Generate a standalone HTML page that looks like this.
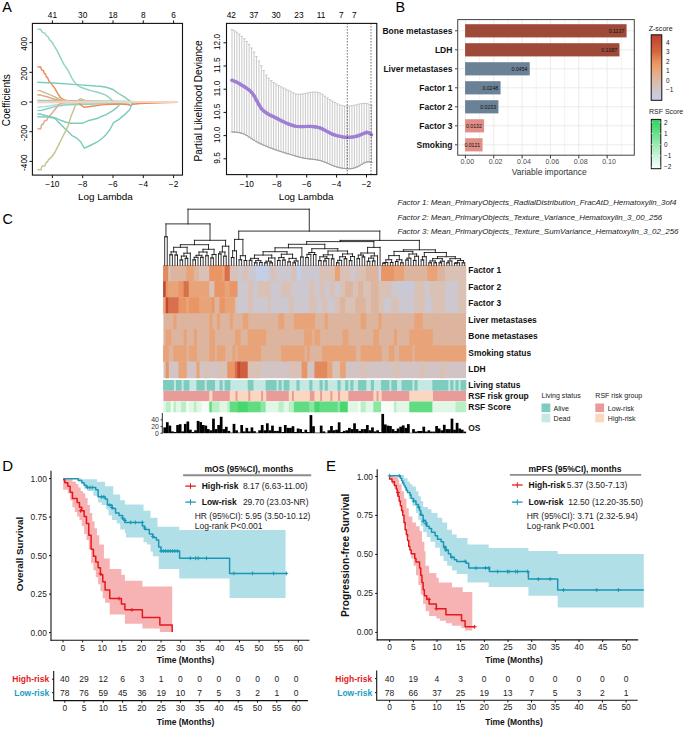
<!DOCTYPE html>
<html><head><meta charset="utf-8"><style>
html,body{margin:0;padding:0;background:#fff;}
body{width:685px;height:730px;overflow:hidden;}
svg{display:block;font-family:"Liberation Sans", sans-serif;}
</style></head><body>
<svg width="685" height="730" viewBox="0 0 685 730">
<rect width="685" height="730" fill="#fff"/>
<text x="2.3" y="12.4" font-size="14.4" text-anchor="start" fill="#000">A</text>
<text x="395.6" y="12.4" font-size="14.4" text-anchor="start" fill="#000">B</text>
<text x="2.5" y="223.6" font-size="14.4" text-anchor="start" fill="#000">C</text>
<text x="2.2" y="470.9" font-size="15" text-anchor="start" fill="#000">D</text>
<text x="325.9" y="470.8" font-size="15" text-anchor="start" fill="#000">E</text>
<polyline points="37.4,100.4 80,100.6 130,101.4 140,102" fill="none" stroke="#7ccbbb" stroke-width="1.45" stroke-linejoin="round"/>
<polyline points="37.4,107.2 45,106.5 54.7,105 67,103.6 80,103.3 110,103.2 135,102.3" fill="none" stroke="#b5e1d7" stroke-width="1.45" stroke-linejoin="round"/>
<polyline points="37.4,110.6 42,110.2 48,108.5 54.7,106.6 67,104.7 80,104.5 110,103.6 135,102.4" fill="none" stroke="#8dd0c2" stroke-width="1.45" stroke-linejoin="round"/>
<polyline points="37.5,67 40.8,67 41.4,69.5 42.5,70.5 43.5,70.5 44.2,73.5 45.5,74 46.3,76.8 47.6,77.5 48.6,80.5 50,82.2 51.5,84 54.4,87.6 57.4,92.8 60.3,97.5 63.8,99.6 67,100.6 72,101.2 78,101.8 81.5,105.5 84.3,107.3 90,106.5 104,104.6 118,104 128,104.5 130.5,105.5 133,104.2 140,103.5 160,102.7 177.5,102.2" fill="none" stroke="#eb8d58" stroke-width="1.45" stroke-linejoin="round"/>
<polyline points="37.4,94.9 40,94.9 42.3,95.6 45,96.2 48.5,97.3 51.5,98.3 54.7,99.2 58,100 62,100.6 70,101.2 90,101.8" fill="none" stroke="#e6a37f" stroke-width="1.45" stroke-linejoin="round"/>
<polyline points="37.4,90.6 40.5,90.6 41.5,91.5 44,92.3 46,93.2 48.5,94.2 52,95.6 56,97.5 60,99.4 64,100.5 70,101" fill="none" stroke="#c6c28f" stroke-width="1.45" stroke-linejoin="round"/>
<polyline points="37.4,128.8 40.8,128.8 41.5,125 43.3,124 44.4,121 46.8,120.3 48.2,117.3 51,114.6 54.7,109.7 58.4,105 61,103.2 66,102.3 75,101.9" fill="none" stroke="#e3a88e" stroke-width="1.45" stroke-linejoin="round"/>
<polyline points="37.6,29.2 40.8,29.2 41.7,31.5 42.8,32.6 44.8,33 46.2,35.5 48.3,37 49.3,39.6 51.3,41.2 53.4,44.5 56.9,50.4 60.4,57.4 63.9,64.4 67.2,69 69.7,73.7 72,78.4 74.4,81.9 76.7,84.6 80.2,87 84.9,88.8 90.7,90.6 97.7,92.3 104.7,94.6 108.7,97.2 112.4,100.6 115,102.3 120,102.3" fill="none" stroke="#8fd4c6" stroke-width="1.45" stroke-linejoin="round"/>
<polyline points="37.2,82.3 53.4,83 76.7,84.6 95.4,86 100,86.2 106.2,87.3 112.4,89.2 118.6,93.5 124.8,97.2 129.8,101 132.3,103.2 135,102.6 138,102.2" fill="none" stroke="#7ccbbb" stroke-width="1.45" stroke-linejoin="round"/>
<polyline points="37.4,114 41.1,114 42.3,114.8 48,116.2 54.7,117.7 62.1,120.8 66,122.3 70.7,123.2 81.8,123.2 84,122.6 88,120.8 97.8,118.3 100,117 106.2,114.6 112.4,110.9 117.4,107.1 119.9,104 122,102.5 130,102.2" fill="none" stroke="#7ccbbb" stroke-width="1.45" stroke-linejoin="round"/>
<polyline points="37.4,116.8 48.5,117.1 54.7,118.3 57.5,121 60.8,124.5 64,127.8 67,130.6 71.9,135.6 76.9,138.2 80.6,141.7 82.5,145 84.3,148.2 89.2,146 97.8,141.7 104,136.8 106.2,134.4 109.9,129.5 113.6,122.7 118.6,119.6 124.8,114.6 129.8,109.6 131,105.9 132.3,103.4 134,102.5 140,102.2" fill="none" stroke="#7ccbbb" stroke-width="1.45" stroke-linejoin="round"/>
<polyline points="37.5,169.8 41.1,169.8 41.7,166.6 43,166 44.8,165.8 46,162.7 47.5,161.8 48.5,159.6 51,157.7 54.7,152.8 58.4,145.4 62.1,138 65.8,130.6 68.2,125.7 70.7,117.1 73.2,110.9 75.6,104.7 78.7,99.8 80.6,98.6 83,99.8 86.7,101 95,101.6 110,101.9" fill="none" stroke="#c6c28f" stroke-width="1.45" stroke-linejoin="round"/>
<polyline points="37.5,102.6 100,102.57 150,102 177.5,102" fill="none" stroke="#f1cbb8" stroke-width="1.3" stroke-linejoin="round"/>
<polyline points="37.5,101.4 100,101.43 150,102 177.5,102" fill="none" stroke="#f4d3c2" stroke-width="1.3" stroke-linejoin="round"/>
<polyline points="37.5,102 100,102 150,102 177.5,102" fill="none" stroke="#f4d3c2" stroke-width="1.6" stroke-linejoin="round"/>
<rect x="32.4" y="23.4" width="150.1" height="151.7" fill="none" stroke="#111" stroke-width="1.1"/>
<line x1="52.4" y1="175.1" x2="52.4" y2="178.1" stroke="#111" stroke-width="1"/>
<line x1="52.4" y1="23.4" x2="52.4" y2="20.4" stroke="#111" stroke-width="1"/>
<text x="52.4" y="187.07" font-size="8.3" text-anchor="middle" fill="#000">−10</text>
<text x="52.4" y="17.57" font-size="8.3" text-anchor="middle" fill="#000">41</text>
<line x1="82.7" y1="175.1" x2="82.7" y2="178.1" stroke="#111" stroke-width="1"/>
<line x1="82.7" y1="23.4" x2="82.7" y2="20.4" stroke="#111" stroke-width="1"/>
<text x="82.7" y="187.07" font-size="8.3" text-anchor="middle" fill="#000">−8</text>
<text x="82.7" y="17.57" font-size="8.3" text-anchor="middle" fill="#000">30</text>
<line x1="113" y1="175.1" x2="113" y2="178.1" stroke="#111" stroke-width="1"/>
<line x1="113" y1="23.4" x2="113" y2="20.4" stroke="#111" stroke-width="1"/>
<text x="113" y="187.07" font-size="8.3" text-anchor="middle" fill="#000">−6</text>
<text x="113" y="17.57" font-size="8.3" text-anchor="middle" fill="#000">18</text>
<line x1="143.3" y1="175.1" x2="143.3" y2="178.1" stroke="#111" stroke-width="1"/>
<line x1="143.3" y1="23.4" x2="143.3" y2="20.4" stroke="#111" stroke-width="1"/>
<text x="143.3" y="187.07" font-size="8.3" text-anchor="middle" fill="#000">−4</text>
<text x="143.3" y="17.57" font-size="8.3" text-anchor="middle" fill="#000">8</text>
<line x1="173.6" y1="175.1" x2="173.6" y2="178.1" stroke="#111" stroke-width="1"/>
<line x1="173.6" y1="23.4" x2="173.6" y2="20.4" stroke="#111" stroke-width="1"/>
<text x="173.6" y="187.07" font-size="8.3" text-anchor="middle" fill="#000">−2</text>
<text x="173.6" y="17.57" font-size="8.3" text-anchor="middle" fill="#000">6</text>
<line x1="32.4" y1="42.6" x2="29.4" y2="42.6" stroke="#111" stroke-width="1"/>
<text x="23.8" y="46.77" font-size="8.3" text-anchor="middle" fill="#000" transform="rotate(-90 23.8 43.8)">400</text>
<line x1="32.4" y1="72.3" x2="29.4" y2="72.3" stroke="#111" stroke-width="1"/>
<text x="23.8" y="76.47" font-size="8.3" text-anchor="middle" fill="#000" transform="rotate(-90 23.8 73.5)">200</text>
<line x1="32.4" y1="102" x2="29.4" y2="102" stroke="#111" stroke-width="1"/>
<text x="23.8" y="106.17" font-size="8.3" text-anchor="middle" fill="#000" transform="rotate(-90 23.8 103.2)">0</text>
<line x1="32.4" y1="131.7" x2="29.4" y2="131.7" stroke="#111" stroke-width="1"/>
<text x="23.8" y="135.87" font-size="8.3" text-anchor="middle" fill="#000" transform="rotate(-90 23.8 132.9)">-200</text>
<line x1="32.4" y1="161.4" x2="29.4" y2="161.4" stroke="#111" stroke-width="1"/>
<text x="23.8" y="165.57" font-size="8.3" text-anchor="middle" fill="#000" transform="rotate(-90 23.8 162.6)">-400</text>
<text x="105.4" y="200.14" font-size="9.9" text-anchor="middle" fill="#000">Log Lambda</text>
<text x="6.9" y="103.88" font-size="10" text-anchor="middle" fill="#000" transform="rotate(-90 6.9 100.3)">Coefficients</text>
<line x1="232" y1="29.5" x2="232" y2="132" stroke="#cdcdcd" stroke-width="1.1"/>
<line x1="230.7" y1="29.5" x2="233.3" y2="29.5" stroke="#bdbdbd" stroke-width="0.8"/>
<line x1="230.7" y1="132" x2="233.3" y2="132" stroke="#a8a8a8" stroke-width="1"/>
<line x1="234.45" y1="30.72" x2="234.45" y2="132.12" stroke="#cdcdcd" stroke-width="1.1"/>
<line x1="233.15" y1="30.72" x2="235.75" y2="30.72" stroke="#bdbdbd" stroke-width="0.8"/>
<line x1="233.15" y1="132.12" x2="235.75" y2="132.12" stroke="#a8a8a8" stroke-width="1"/>
<line x1="236.89" y1="32.17" x2="236.89" y2="132.33" stroke="#cdcdcd" stroke-width="1.1"/>
<line x1="235.59" y1="32.17" x2="238.19" y2="32.17" stroke="#bdbdbd" stroke-width="0.8"/>
<line x1="235.59" y1="132.33" x2="238.19" y2="132.33" stroke="#a8a8a8" stroke-width="1"/>
<line x1="239.34" y1="34.01" x2="239.34" y2="132.7" stroke="#cdcdcd" stroke-width="1.1"/>
<line x1="238.04" y1="34.01" x2="240.64" y2="34.01" stroke="#bdbdbd" stroke-width="0.8"/>
<line x1="238.04" y1="132.7" x2="240.64" y2="132.7" stroke="#a8a8a8" stroke-width="1"/>
<line x1="241.79" y1="36.29" x2="241.79" y2="133.34" stroke="#cdcdcd" stroke-width="1.1"/>
<line x1="240.49" y1="36.29" x2="243.09" y2="36.29" stroke="#bdbdbd" stroke-width="0.8"/>
<line x1="240.49" y1="133.34" x2="243.09" y2="133.34" stroke="#a8a8a8" stroke-width="1"/>
<line x1="244.24" y1="38.77" x2="244.24" y2="134.14" stroke="#cdcdcd" stroke-width="1.1"/>
<line x1="242.94" y1="38.77" x2="245.54" y2="38.77" stroke="#bdbdbd" stroke-width="0.8"/>
<line x1="242.94" y1="134.14" x2="245.54" y2="134.14" stroke="#a8a8a8" stroke-width="1"/>
<line x1="246.68" y1="41.52" x2="246.68" y2="135.54" stroke="#cdcdcd" stroke-width="1.1"/>
<line x1="245.38" y1="41.52" x2="247.98" y2="41.52" stroke="#bdbdbd" stroke-width="0.8"/>
<line x1="245.38" y1="135.54" x2="247.98" y2="135.54" stroke="#a8a8a8" stroke-width="1"/>
<line x1="249.13" y1="44.56" x2="249.13" y2="137.06" stroke="#cdcdcd" stroke-width="1.1"/>
<line x1="247.83" y1="44.56" x2="250.43" y2="44.56" stroke="#bdbdbd" stroke-width="0.8"/>
<line x1="247.83" y1="137.06" x2="250.43" y2="137.06" stroke="#a8a8a8" stroke-width="1"/>
<line x1="251.58" y1="47.92" x2="251.58" y2="138.72" stroke="#cdcdcd" stroke-width="1.1"/>
<line x1="250.28" y1="47.92" x2="252.88" y2="47.92" stroke="#bdbdbd" stroke-width="0.8"/>
<line x1="250.28" y1="138.72" x2="252.88" y2="138.72" stroke="#a8a8a8" stroke-width="1"/>
<line x1="254.03" y1="52.05" x2="254.03" y2="140.27" stroke="#cdcdcd" stroke-width="1.1"/>
<line x1="252.73" y1="52.05" x2="255.33" y2="52.05" stroke="#bdbdbd" stroke-width="0.8"/>
<line x1="252.73" y1="140.27" x2="255.33" y2="140.27" stroke="#a8a8a8" stroke-width="1"/>
<line x1="256.47" y1="56.39" x2="256.47" y2="141.74" stroke="#cdcdcd" stroke-width="1.1"/>
<line x1="255.17" y1="56.39" x2="257.77" y2="56.39" stroke="#bdbdbd" stroke-width="0.8"/>
<line x1="255.17" y1="141.74" x2="257.77" y2="141.74" stroke="#a8a8a8" stroke-width="1"/>
<line x1="258.92" y1="60.98" x2="258.92" y2="142.96" stroke="#cdcdcd" stroke-width="1.1"/>
<line x1="257.62" y1="60.98" x2="260.22" y2="60.98" stroke="#bdbdbd" stroke-width="0.8"/>
<line x1="257.62" y1="142.96" x2="260.22" y2="142.96" stroke="#a8a8a8" stroke-width="1"/>
<line x1="261.37" y1="65.78" x2="261.37" y2="144.12" stroke="#cdcdcd" stroke-width="1.1"/>
<line x1="260.07" y1="65.78" x2="262.67" y2="65.78" stroke="#bdbdbd" stroke-width="0.8"/>
<line x1="260.07" y1="144.12" x2="262.67" y2="144.12" stroke="#a8a8a8" stroke-width="1"/>
<line x1="263.82" y1="70.62" x2="263.82" y2="145.22" stroke="#cdcdcd" stroke-width="1.1"/>
<line x1="262.52" y1="70.62" x2="265.12" y2="70.62" stroke="#bdbdbd" stroke-width="0.8"/>
<line x1="262.52" y1="145.22" x2="265.12" y2="145.22" stroke="#a8a8a8" stroke-width="1"/>
<line x1="266.26" y1="75.07" x2="266.26" y2="146.26" stroke="#cdcdcd" stroke-width="1.1"/>
<line x1="264.96" y1="75.07" x2="267.56" y2="75.07" stroke="#bdbdbd" stroke-width="0.8"/>
<line x1="264.96" y1="146.26" x2="267.56" y2="146.26" stroke="#a8a8a8" stroke-width="1"/>
<line x1="268.71" y1="78.25" x2="268.71" y2="147.27" stroke="#cdcdcd" stroke-width="1.1"/>
<line x1="267.41" y1="78.25" x2="270.01" y2="78.25" stroke="#bdbdbd" stroke-width="0.8"/>
<line x1="267.41" y1="147.27" x2="270.01" y2="147.27" stroke="#a8a8a8" stroke-width="1"/>
<line x1="271.16" y1="80.63" x2="271.16" y2="148.18" stroke="#cdcdcd" stroke-width="1.1"/>
<line x1="269.86" y1="80.63" x2="272.46" y2="80.63" stroke="#bdbdbd" stroke-width="0.8"/>
<line x1="269.86" y1="148.18" x2="272.46" y2="148.18" stroke="#a8a8a8" stroke-width="1"/>
<line x1="273.61" y1="82.5" x2="273.61" y2="149.1" stroke="#cdcdcd" stroke-width="1.1"/>
<line x1="272.31" y1="82.5" x2="274.91" y2="82.5" stroke="#bdbdbd" stroke-width="0.8"/>
<line x1="272.31" y1="149.1" x2="274.91" y2="149.1" stroke="#a8a8a8" stroke-width="1"/>
<line x1="276.05" y1="84" x2="276.05" y2="150.02" stroke="#cdcdcd" stroke-width="1.1"/>
<line x1="274.75" y1="84" x2="277.35" y2="84" stroke="#bdbdbd" stroke-width="0.8"/>
<line x1="274.75" y1="150.02" x2="277.35" y2="150.02" stroke="#a8a8a8" stroke-width="1"/>
<line x1="278.5" y1="85.44" x2="278.5" y2="150.81" stroke="#cdcdcd" stroke-width="1.1"/>
<line x1="277.2" y1="85.44" x2="279.8" y2="85.44" stroke="#bdbdbd" stroke-width="0.8"/>
<line x1="277.2" y1="150.81" x2="279.8" y2="150.81" stroke="#a8a8a8" stroke-width="1"/>
<line x1="280.95" y1="86.73" x2="280.95" y2="151.61" stroke="#cdcdcd" stroke-width="1.1"/>
<line x1="279.65" y1="86.73" x2="282.25" y2="86.73" stroke="#bdbdbd" stroke-width="0.8"/>
<line x1="279.65" y1="151.61" x2="282.25" y2="151.61" stroke="#a8a8a8" stroke-width="1"/>
<line x1="283.39" y1="87.98" x2="283.39" y2="152.4" stroke="#cdcdcd" stroke-width="1.1"/>
<line x1="282.09" y1="87.98" x2="284.69" y2="87.98" stroke="#bdbdbd" stroke-width="0.8"/>
<line x1="282.09" y1="152.4" x2="284.69" y2="152.4" stroke="#a8a8a8" stroke-width="1"/>
<line x1="285.84" y1="89.12" x2="285.84" y2="153.15" stroke="#cdcdcd" stroke-width="1.1"/>
<line x1="284.54" y1="89.12" x2="287.14" y2="89.12" stroke="#bdbdbd" stroke-width="0.8"/>
<line x1="284.54" y1="153.15" x2="287.14" y2="153.15" stroke="#a8a8a8" stroke-width="1"/>
<line x1="288.29" y1="90.33" x2="288.29" y2="153.89" stroke="#cdcdcd" stroke-width="1.1"/>
<line x1="286.99" y1="90.33" x2="289.59" y2="90.33" stroke="#bdbdbd" stroke-width="0.8"/>
<line x1="286.99" y1="153.89" x2="289.59" y2="153.89" stroke="#a8a8a8" stroke-width="1"/>
<line x1="290.74" y1="91.63" x2="290.74" y2="154.62" stroke="#cdcdcd" stroke-width="1.1"/>
<line x1="289.44" y1="91.63" x2="292.04" y2="91.63" stroke="#bdbdbd" stroke-width="0.8"/>
<line x1="289.44" y1="154.62" x2="292.04" y2="154.62" stroke="#a8a8a8" stroke-width="1"/>
<line x1="293.18" y1="92.85" x2="293.18" y2="155.36" stroke="#cdcdcd" stroke-width="1.1"/>
<line x1="291.88" y1="92.85" x2="294.48" y2="92.85" stroke="#bdbdbd" stroke-width="0.8"/>
<line x1="291.88" y1="155.36" x2="294.48" y2="155.36" stroke="#a8a8a8" stroke-width="1"/>
<line x1="295.63" y1="93.98" x2="295.63" y2="156.09" stroke="#cdcdcd" stroke-width="1.1"/>
<line x1="294.33" y1="93.98" x2="296.93" y2="93.98" stroke="#bdbdbd" stroke-width="0.8"/>
<line x1="294.33" y1="156.09" x2="296.93" y2="156.09" stroke="#a8a8a8" stroke-width="1"/>
<line x1="298.08" y1="94.25" x2="298.08" y2="156.77" stroke="#cdcdcd" stroke-width="1.1"/>
<line x1="296.78" y1="94.25" x2="299.38" y2="94.25" stroke="#bdbdbd" stroke-width="0.8"/>
<line x1="296.78" y1="156.77" x2="299.38" y2="156.77" stroke="#a8a8a8" stroke-width="1"/>
<line x1="300.53" y1="94.22" x2="300.53" y2="157.42" stroke="#cdcdcd" stroke-width="1.1"/>
<line x1="299.23" y1="94.22" x2="301.83" y2="94.22" stroke="#bdbdbd" stroke-width="0.8"/>
<line x1="299.23" y1="157.42" x2="301.83" y2="157.42" stroke="#a8a8a8" stroke-width="1"/>
<line x1="302.97" y1="93.87" x2="302.97" y2="157.97" stroke="#cdcdcd" stroke-width="1.1"/>
<line x1="301.67" y1="93.87" x2="304.27" y2="93.87" stroke="#bdbdbd" stroke-width="0.8"/>
<line x1="301.67" y1="157.97" x2="304.27" y2="157.97" stroke="#a8a8a8" stroke-width="1"/>
<line x1="305.42" y1="93.45" x2="305.42" y2="158.41" stroke="#cdcdcd" stroke-width="1.1"/>
<line x1="304.12" y1="93.45" x2="306.72" y2="93.45" stroke="#bdbdbd" stroke-width="0.8"/>
<line x1="304.12" y1="158.41" x2="306.72" y2="158.41" stroke="#a8a8a8" stroke-width="1"/>
<line x1="307.87" y1="92.87" x2="307.87" y2="158.78" stroke="#cdcdcd" stroke-width="1.1"/>
<line x1="306.57" y1="92.87" x2="309.17" y2="92.87" stroke="#bdbdbd" stroke-width="0.8"/>
<line x1="306.57" y1="158.78" x2="309.17" y2="158.78" stroke="#a8a8a8" stroke-width="1"/>
<line x1="310.32" y1="92.4" x2="310.32" y2="159.03" stroke="#cdcdcd" stroke-width="1.1"/>
<line x1="309.02" y1="92.4" x2="311.62" y2="92.4" stroke="#bdbdbd" stroke-width="0.8"/>
<line x1="309.02" y1="159.03" x2="311.62" y2="159.03" stroke="#a8a8a8" stroke-width="1"/>
<line x1="312.76" y1="92.03" x2="312.76" y2="159.3" stroke="#cdcdcd" stroke-width="1.1"/>
<line x1="311.46" y1="92.03" x2="314.06" y2="92.03" stroke="#bdbdbd" stroke-width="0.8"/>
<line x1="311.46" y1="159.3" x2="314.06" y2="159.3" stroke="#a8a8a8" stroke-width="1"/>
<line x1="315.21" y1="92.04" x2="315.21" y2="159.6" stroke="#cdcdcd" stroke-width="1.1"/>
<line x1="313.91" y1="92.04" x2="316.51" y2="92.04" stroke="#bdbdbd" stroke-width="0.8"/>
<line x1="313.91" y1="159.6" x2="316.51" y2="159.6" stroke="#a8a8a8" stroke-width="1"/>
<line x1="317.66" y1="92.36" x2="317.66" y2="160.03" stroke="#cdcdcd" stroke-width="1.1"/>
<line x1="316.36" y1="92.36" x2="318.96" y2="92.36" stroke="#bdbdbd" stroke-width="0.8"/>
<line x1="316.36" y1="160.03" x2="318.96" y2="160.03" stroke="#a8a8a8" stroke-width="1"/>
<line x1="320.11" y1="92.98" x2="320.11" y2="160.53" stroke="#cdcdcd" stroke-width="1.1"/>
<line x1="318.81" y1="92.98" x2="321.41" y2="92.98" stroke="#bdbdbd" stroke-width="0.8"/>
<line x1="318.81" y1="160.53" x2="321.41" y2="160.53" stroke="#a8a8a8" stroke-width="1"/>
<line x1="322.55" y1="94.43" x2="322.55" y2="161.33" stroke="#cdcdcd" stroke-width="1.1"/>
<line x1="321.25" y1="94.43" x2="323.85" y2="94.43" stroke="#bdbdbd" stroke-width="0.8"/>
<line x1="321.25" y1="161.33" x2="323.85" y2="161.33" stroke="#a8a8a8" stroke-width="1"/>
<line x1="325" y1="96.12" x2="325" y2="162.23" stroke="#cdcdcd" stroke-width="1.1"/>
<line x1="323.7" y1="96.12" x2="326.3" y2="96.12" stroke="#bdbdbd" stroke-width="0.8"/>
<line x1="323.7" y1="162.23" x2="326.3" y2="162.23" stroke="#a8a8a8" stroke-width="1"/>
<line x1="327.45" y1="97.9" x2="327.45" y2="163.27" stroke="#cdcdcd" stroke-width="1.1"/>
<line x1="326.15" y1="97.9" x2="328.75" y2="97.9" stroke="#bdbdbd" stroke-width="0.8"/>
<line x1="326.15" y1="163.27" x2="328.75" y2="163.27" stroke="#a8a8a8" stroke-width="1"/>
<line x1="329.89" y1="99.53" x2="329.89" y2="164.35" stroke="#cdcdcd" stroke-width="1.1"/>
<line x1="328.59" y1="99.53" x2="331.19" y2="99.53" stroke="#bdbdbd" stroke-width="0.8"/>
<line x1="328.59" y1="164.35" x2="331.19" y2="164.35" stroke="#a8a8a8" stroke-width="1"/>
<line x1="332.34" y1="101.09" x2="332.34" y2="165.43" stroke="#cdcdcd" stroke-width="1.1"/>
<line x1="331.04" y1="101.09" x2="333.64" y2="101.09" stroke="#bdbdbd" stroke-width="0.8"/>
<line x1="331.04" y1="165.43" x2="333.64" y2="165.43" stroke="#a8a8a8" stroke-width="1"/>
<line x1="334.79" y1="102.51" x2="334.79" y2="166.35" stroke="#cdcdcd" stroke-width="1.1"/>
<line x1="333.49" y1="102.51" x2="336.09" y2="102.51" stroke="#bdbdbd" stroke-width="0.8"/>
<line x1="333.49" y1="166.35" x2="336.09" y2="166.35" stroke="#a8a8a8" stroke-width="1"/>
<line x1="337.24" y1="103.79" x2="337.24" y2="167.11" stroke="#cdcdcd" stroke-width="1.1"/>
<line x1="335.94" y1="103.79" x2="338.54" y2="103.79" stroke="#bdbdbd" stroke-width="0.8"/>
<line x1="335.94" y1="167.11" x2="338.54" y2="167.11" stroke="#a8a8a8" stroke-width="1"/>
<line x1="339.68" y1="104.9" x2="339.68" y2="167.72" stroke="#cdcdcd" stroke-width="1.1"/>
<line x1="338.38" y1="104.9" x2="340.98" y2="104.9" stroke="#bdbdbd" stroke-width="0.8"/>
<line x1="338.38" y1="167.72" x2="340.98" y2="167.72" stroke="#a8a8a8" stroke-width="1"/>
<line x1="342.13" y1="105.58" x2="342.13" y2="168.17" stroke="#cdcdcd" stroke-width="1.1"/>
<line x1="340.83" y1="105.58" x2="343.43" y2="105.58" stroke="#bdbdbd" stroke-width="0.8"/>
<line x1="340.83" y1="168.17" x2="343.43" y2="168.17" stroke="#a8a8a8" stroke-width="1"/>
<line x1="344.58" y1="105.94" x2="344.58" y2="168.54" stroke="#cdcdcd" stroke-width="1.1"/>
<line x1="343.28" y1="105.94" x2="345.88" y2="105.94" stroke="#bdbdbd" stroke-width="0.8"/>
<line x1="343.28" y1="168.54" x2="345.88" y2="168.54" stroke="#a8a8a8" stroke-width="1"/>
<line x1="347.03" y1="106.07" x2="347.03" y2="168.73" stroke="#cdcdcd" stroke-width="1.1"/>
<line x1="345.73" y1="106.07" x2="348.33" y2="106.07" stroke="#bdbdbd" stroke-width="0.8"/>
<line x1="345.73" y1="168.73" x2="348.33" y2="168.73" stroke="#a8a8a8" stroke-width="1"/>
<line x1="349.47" y1="105.93" x2="349.47" y2="168.73" stroke="#cdcdcd" stroke-width="1.1"/>
<line x1="348.17" y1="105.93" x2="350.77" y2="105.93" stroke="#bdbdbd" stroke-width="0.8"/>
<line x1="348.17" y1="168.73" x2="350.77" y2="168.73" stroke="#a8a8a8" stroke-width="1"/>
<line x1="351.92" y1="105.64" x2="351.92" y2="168.6" stroke="#cdcdcd" stroke-width="1.1"/>
<line x1="350.62" y1="105.64" x2="353.22" y2="105.64" stroke="#bdbdbd" stroke-width="0.8"/>
<line x1="350.62" y1="168.6" x2="353.22" y2="168.6" stroke="#a8a8a8" stroke-width="1"/>
<line x1="354.37" y1="105.21" x2="354.37" y2="167.95" stroke="#cdcdcd" stroke-width="1.1"/>
<line x1="353.07" y1="105.21" x2="355.67" y2="105.21" stroke="#bdbdbd" stroke-width="0.8"/>
<line x1="353.07" y1="167.95" x2="355.67" y2="167.95" stroke="#a8a8a8" stroke-width="1"/>
<line x1="356.82" y1="104.66" x2="356.82" y2="167.09" stroke="#cdcdcd" stroke-width="1.1"/>
<line x1="355.52" y1="104.66" x2="358.12" y2="104.66" stroke="#bdbdbd" stroke-width="0.8"/>
<line x1="355.52" y1="167.09" x2="358.12" y2="167.09" stroke="#a8a8a8" stroke-width="1"/>
<line x1="359.26" y1="103.99" x2="359.26" y2="165.87" stroke="#cdcdcd" stroke-width="1.1"/>
<line x1="357.96" y1="103.99" x2="360.56" y2="103.99" stroke="#bdbdbd" stroke-width="0.8"/>
<line x1="357.96" y1="165.87" x2="360.56" y2="165.87" stroke="#a8a8a8" stroke-width="1"/>
<line x1="361.71" y1="103.59" x2="361.71" y2="164.43" stroke="#cdcdcd" stroke-width="1.1"/>
<line x1="360.41" y1="103.59" x2="363.01" y2="103.59" stroke="#bdbdbd" stroke-width="0.8"/>
<line x1="360.41" y1="164.43" x2="363.01" y2="164.43" stroke="#a8a8a8" stroke-width="1"/>
<line x1="364.16" y1="103.36" x2="364.16" y2="162.94" stroke="#cdcdcd" stroke-width="1.1"/>
<line x1="362.86" y1="103.36" x2="365.46" y2="103.36" stroke="#bdbdbd" stroke-width="0.8"/>
<line x1="362.86" y1="162.94" x2="365.46" y2="162.94" stroke="#a8a8a8" stroke-width="1"/>
<line x1="366.61" y1="103.41" x2="366.61" y2="162.02" stroke="#cdcdcd" stroke-width="1.1"/>
<line x1="365.31" y1="103.41" x2="367.91" y2="103.41" stroke="#bdbdbd" stroke-width="0.8"/>
<line x1="365.31" y1="162.02" x2="367.91" y2="162.02" stroke="#a8a8a8" stroke-width="1"/>
<line x1="369.05" y1="104.11" x2="369.05" y2="161.8" stroke="#cdcdcd" stroke-width="1.1"/>
<line x1="367.75" y1="104.11" x2="370.35" y2="104.11" stroke="#bdbdbd" stroke-width="0.8"/>
<line x1="367.75" y1="161.8" x2="370.35" y2="161.8" stroke="#a8a8a8" stroke-width="1"/>
<line x1="371.5" y1="105.5" x2="371.5" y2="162.5" stroke="#cdcdcd" stroke-width="1.1"/>
<line x1="370.2" y1="105.5" x2="372.8" y2="105.5" stroke="#bdbdbd" stroke-width="0.8"/>
<line x1="370.2" y1="162.5" x2="372.8" y2="162.5" stroke="#a8a8a8" stroke-width="1"/>
<polyline points="232,132 234.45,132.12 236.89,132.33 239.34,132.7 241.79,133.34 244.24,134.14 246.68,135.54 249.13,137.06 251.58,138.72 254.03,140.27 256.47,141.74 258.92,142.96 261.37,144.12 263.82,145.22 266.26,146.26 268.71,147.27 271.16,148.18 273.61,149.1 276.05,150.02 278.5,150.81 280.95,151.61 283.39,152.4 285.84,153.15 288.29,153.89 290.74,154.62 293.18,155.36 295.63,156.09 298.08,156.77 300.53,157.42 302.97,157.97 305.42,158.41 307.87,158.78 310.32,159.03 312.76,159.3 315.21,159.6 317.66,160.03 320.11,160.53 322.55,161.33 325,162.23 327.45,163.27 329.89,164.35 332.34,165.43 334.79,166.35 337.24,167.11 339.68,167.72 342.13,168.17 344.58,168.54 347.03,168.73 349.47,168.73 351.92,168.6 354.37,167.95 356.82,167.09 359.26,165.87 361.71,164.43 364.16,162.94 366.61,162.02 369.05,161.8 371.5,162.5" fill="none" stroke="#a0a0a0" stroke-width="1" stroke-linejoin="round"/>
<circle cx="232" cy="80.3" r="1.8" fill="#9f7fd6"/>
<circle cx="234.45" cy="81.22" r="1.8" fill="#9f7fd6"/>
<circle cx="236.89" cy="82.32" r="1.8" fill="#9f7fd6"/>
<circle cx="239.34" cy="83.74" r="1.8" fill="#9f7fd6"/>
<circle cx="241.79" cy="85.18" r="1.8" fill="#9f7fd6"/>
<circle cx="244.24" cy="86.63" r="1.8" fill="#9f7fd6"/>
<circle cx="246.68" cy="88.2" r="1.8" fill="#9f7fd6"/>
<circle cx="249.13" cy="90.06" r="1.8" fill="#9f7fd6"/>
<circle cx="251.58" cy="92.38" r="1.8" fill="#9f7fd6"/>
<circle cx="254.03" cy="95.73" r="1.8" fill="#9f7fd6"/>
<circle cx="256.47" cy="100.14" r="1.8" fill="#9f7fd6"/>
<circle cx="258.92" cy="104.63" r="1.8" fill="#9f7fd6"/>
<circle cx="261.37" cy="108.67" r="1.8" fill="#9f7fd6"/>
<circle cx="263.82" cy="111.12" r="1.8" fill="#9f7fd6"/>
<circle cx="266.26" cy="112.87" r="1.8" fill="#9f7fd6"/>
<circle cx="268.71" cy="114.39" r="1.8" fill="#9f7fd6"/>
<circle cx="271.16" cy="115.67" r="1.8" fill="#9f7fd6"/>
<circle cx="273.61" cy="116.82" r="1.8" fill="#9f7fd6"/>
<circle cx="276.05" cy="118.03" r="1.8" fill="#9f7fd6"/>
<circle cx="278.5" cy="119.26" r="1.8" fill="#9f7fd6"/>
<circle cx="280.95" cy="120.5" r="1.8" fill="#9f7fd6"/>
<circle cx="283.39" cy="121.73" r="1.8" fill="#9f7fd6"/>
<circle cx="285.84" cy="122.86" r="1.8" fill="#9f7fd6"/>
<circle cx="288.29" cy="123.89" r="1.8" fill="#9f7fd6"/>
<circle cx="290.74" cy="124.83" r="1.8" fill="#9f7fd6"/>
<circle cx="293.18" cy="125.6" r="1.8" fill="#9f7fd6"/>
<circle cx="295.63" cy="126.27" r="1.8" fill="#9f7fd6"/>
<circle cx="298.08" cy="126.5" r="1.8" fill="#9f7fd6"/>
<circle cx="300.53" cy="126.59" r="1.8" fill="#9f7fd6"/>
<circle cx="302.97" cy="126.54" r="1.8" fill="#9f7fd6"/>
<circle cx="305.42" cy="126.49" r="1.8" fill="#9f7fd6"/>
<circle cx="307.87" cy="126.43" r="1.8" fill="#9f7fd6"/>
<circle cx="310.32" cy="126.46" r="1.8" fill="#9f7fd6"/>
<circle cx="312.76" cy="126.56" r="1.8" fill="#9f7fd6"/>
<circle cx="315.21" cy="126.84" r="1.8" fill="#9f7fd6"/>
<circle cx="317.66" cy="127.29" r="1.8" fill="#9f7fd6"/>
<circle cx="320.11" cy="127.97" r="1.8" fill="#9f7fd6"/>
<circle cx="322.55" cy="129.07" r="1.8" fill="#9f7fd6"/>
<circle cx="325" cy="130.34" r="1.8" fill="#9f7fd6"/>
<circle cx="327.45" cy="131.69" r="1.8" fill="#9f7fd6"/>
<circle cx="329.89" cy="132.95" r="1.8" fill="#9f7fd6"/>
<circle cx="332.34" cy="134.14" r="1.8" fill="#9f7fd6"/>
<circle cx="334.79" cy="135.05" r="1.8" fill="#9f7fd6"/>
<circle cx="337.24" cy="135.74" r="1.8" fill="#9f7fd6"/>
<circle cx="339.68" cy="136.25" r="1.8" fill="#9f7fd6"/>
<circle cx="342.13" cy="136.8" r="1.8" fill="#9f7fd6"/>
<circle cx="344.58" cy="137.19" r="1.8" fill="#9f7fd6"/>
<circle cx="347.03" cy="137.38" r="1.8" fill="#9f7fd6"/>
<circle cx="349.47" cy="137.31" r="1.8" fill="#9f7fd6"/>
<circle cx="351.92" cy="137.11" r="1.8" fill="#9f7fd6"/>
<circle cx="354.37" cy="136.71" r="1.8" fill="#9f7fd6"/>
<circle cx="356.82" cy="136.14" r="1.8" fill="#9f7fd6"/>
<circle cx="359.26" cy="135.4" r="1.8" fill="#9f7fd6"/>
<circle cx="361.71" cy="134.37" r="1.8" fill="#9f7fd6"/>
<circle cx="364.16" cy="133.28" r="1.8" fill="#9f7fd6"/>
<circle cx="366.61" cy="132.4" r="1.8" fill="#9f7fd6"/>
<circle cx="369.05" cy="132.93" r="1.8" fill="#9f7fd6"/>
<circle cx="371.5" cy="134.72" r="1.8" fill="#9f7fd6"/>
<polyline points="232,80.3 234.45,81.22 236.89,82.32 239.34,83.74 241.79,85.18 244.24,86.63 246.68,88.2 249.13,90.06 251.58,92.38 254.03,95.73 256.47,100.14 258.92,104.63 261.37,108.67 263.82,111.12 266.26,112.87 268.71,114.39 271.16,115.67 273.61,116.82 276.05,118.03 278.5,119.26 280.95,120.5 283.39,121.73 285.84,122.86 288.29,123.89 290.74,124.83 293.18,125.6 295.63,126.27 298.08,126.5 300.53,126.59 302.97,126.54 305.42,126.49 307.87,126.43 310.32,126.46 312.76,126.56 315.21,126.84 317.66,127.29 320.11,127.97 322.55,129.07 325,130.34 327.45,131.69 329.89,132.95 332.34,134.14 334.79,135.05 337.24,135.74 339.68,136.25 342.13,136.8 344.58,137.19 347.03,137.38 349.47,137.31 351.92,137.11 354.37,136.71 356.82,136.14 359.26,135.4 361.71,134.37 364.16,133.28 366.61,132.4 369.05,132.93 371.5,134.72" fill="none" stroke="#9f7fd6" stroke-width="3.2" stroke-linejoin="round" stroke-linecap="round"/>
<line x1="347.3" y1="23.4" x2="347.3" y2="174.6" stroke="#222" stroke-width="1" stroke-dasharray="1 2"/>
<line x1="371" y1="23.4" x2="371" y2="174.6" stroke="#222" stroke-width="1" stroke-dasharray="1 2"/>
<rect x="226.5" y="23.4" width="150.3" height="151.2" fill="none" stroke="#111" stroke-width="1.1"/>
<line x1="246.9" y1="174.6" x2="246.9" y2="177.6" stroke="#111" stroke-width="1"/>
<text x="246.9" y="187.07" font-size="8.3" text-anchor="middle" fill="#000">−10</text>
<line x1="276.8" y1="174.6" x2="276.8" y2="177.6" stroke="#111" stroke-width="1"/>
<text x="276.8" y="187.07" font-size="8.3" text-anchor="middle" fill="#000">−8</text>
<line x1="306.7" y1="174.6" x2="306.7" y2="177.6" stroke="#111" stroke-width="1"/>
<text x="306.7" y="187.07" font-size="8.3" text-anchor="middle" fill="#000">−6</text>
<line x1="336.6" y1="174.6" x2="336.6" y2="177.6" stroke="#111" stroke-width="1"/>
<text x="336.6" y="187.07" font-size="8.3" text-anchor="middle" fill="#000">−4</text>
<line x1="366.5" y1="174.6" x2="366.5" y2="177.6" stroke="#111" stroke-width="1"/>
<text x="366.5" y="187.07" font-size="8.3" text-anchor="middle" fill="#000">−2</text>
<text x="231.3" y="17.57" font-size="8.3" text-anchor="middle" fill="#000">42</text>
<text x="253.8" y="17.57" font-size="8.3" text-anchor="middle" fill="#000">37</text>
<text x="276.1" y="17.57" font-size="8.3" text-anchor="middle" fill="#000">30</text>
<text x="298.9" y="17.57" font-size="8.3" text-anchor="middle" fill="#000">23</text>
<text x="321" y="17.57" font-size="8.3" text-anchor="middle" fill="#000">11</text>
<text x="341.2" y="17.57" font-size="8.3" text-anchor="middle" fill="#000">7</text>
<text x="354.3" y="17.57" font-size="8.3" text-anchor="middle" fill="#000">7</text>
<line x1="226.5" y1="42.8" x2="223.5" y2="42.8" stroke="#111" stroke-width="1"/>
<text x="216.8" y="44.97" font-size="8.3" text-anchor="middle" fill="#000" transform="rotate(-90 216.8 42)">12.0</text>
<line x1="226.5" y1="66" x2="223.5" y2="66" stroke="#111" stroke-width="1"/>
<text x="216.8" y="68.17" font-size="8.3" text-anchor="middle" fill="#000" transform="rotate(-90 216.8 65.2)">11.5</text>
<line x1="226.5" y1="89.2" x2="223.5" y2="89.2" stroke="#111" stroke-width="1"/>
<text x="216.8" y="91.37" font-size="8.3" text-anchor="middle" fill="#000" transform="rotate(-90 216.8 88.4)">11.0</text>
<line x1="226.5" y1="112.4" x2="223.5" y2="112.4" stroke="#111" stroke-width="1"/>
<text x="216.8" y="114.57" font-size="8.3" text-anchor="middle" fill="#000" transform="rotate(-90 216.8 111.6)">10.5</text>
<line x1="226.5" y1="135.6" x2="223.5" y2="135.6" stroke="#111" stroke-width="1"/>
<text x="216.8" y="137.77" font-size="8.3" text-anchor="middle" fill="#000" transform="rotate(-90 216.8 134.8)">10.0</text>
<line x1="226.5" y1="158.8" x2="223.5" y2="158.8" stroke="#111" stroke-width="1"/>
<text x="216.8" y="160.97" font-size="8.3" text-anchor="middle" fill="#000" transform="rotate(-90 216.8 158)">9.5</text>
<text x="306.1" y="200.14" font-size="9.9" text-anchor="middle" fill="#000">Log Lambda</text>
<text x="198.8" y="104.5" font-size="10.05" text-anchor="middle" fill="#000" transform="rotate(-90 198.8 100.9)">Partial Likelihood Deviance</text>
<rect x="457.7" y="19.6" width="176.6" height="135.6" fill="#ffffff"/>
<line x1="465.4" y1="19.6" x2="465.4" y2="155.2" stroke="#ebebeb" stroke-width="1"/>
<line x1="479.57" y1="19.6" x2="479.57" y2="155.2" stroke="#ebebeb" stroke-width="0.6"/>
<line x1="493.75" y1="19.6" x2="493.75" y2="155.2" stroke="#ebebeb" stroke-width="1"/>
<line x1="507.92" y1="19.6" x2="507.92" y2="155.2" stroke="#ebebeb" stroke-width="0.6"/>
<line x1="522.1" y1="19.6" x2="522.1" y2="155.2" stroke="#ebebeb" stroke-width="1"/>
<line x1="536.27" y1="19.6" x2="536.27" y2="155.2" stroke="#ebebeb" stroke-width="0.6"/>
<line x1="550.45" y1="19.6" x2="550.45" y2="155.2" stroke="#ebebeb" stroke-width="1"/>
<line x1="564.62" y1="19.6" x2="564.62" y2="155.2" stroke="#ebebeb" stroke-width="0.6"/>
<line x1="578.8" y1="19.6" x2="578.8" y2="155.2" stroke="#ebebeb" stroke-width="1"/>
<line x1="592.97" y1="19.6" x2="592.97" y2="155.2" stroke="#ebebeb" stroke-width="0.6"/>
<line x1="607.15" y1="19.6" x2="607.15" y2="155.2" stroke="#ebebeb" stroke-width="1"/>
<line x1="621.33" y1="19.6" x2="621.33" y2="155.2" stroke="#ebebeb" stroke-width="0.6"/>
<line x1="457.7" y1="30.8" x2="634.3" y2="30.8" stroke="#ebebeb" stroke-width="1"/>
<line x1="457.7" y1="49.8" x2="634.3" y2="49.8" stroke="#ebebeb" stroke-width="1"/>
<line x1="457.7" y1="68.8" x2="634.3" y2="68.8" stroke="#ebebeb" stroke-width="1"/>
<line x1="457.7" y1="87.8" x2="634.3" y2="87.8" stroke="#ebebeb" stroke-width="1"/>
<line x1="457.7" y1="106.8" x2="634.3" y2="106.8" stroke="#ebebeb" stroke-width="1"/>
<line x1="457.7" y1="125.8" x2="634.3" y2="125.8" stroke="#ebebeb" stroke-width="1"/>
<line x1="457.7" y1="144.8" x2="634.3" y2="144.8" stroke="#ebebeb" stroke-width="1"/>
<rect x="465.1" y="24.2" width="161.47" height="13.2" fill="#9f4a38"/>
<text x="624.27" y="32.66" font-size="5.2" text-anchor="end" fill="#111">0.1137</text>
<text x="452.4" y="33.84" font-size="8.5" text-anchor="end" fill="#111" font-weight="bold">Bone metastases</text>
<line x1="455" y1="30.8" x2="457.7" y2="30.8" stroke="#333" stroke-width="0.9"/>
<rect x="465.1" y="43.2" width="154.38" height="13.2" fill="#9f4a38"/>
<text x="617.18" y="51.66" font-size="5.2" text-anchor="end" fill="#111">0.1087</text>
<text x="452.4" y="52.84" font-size="8.5" text-anchor="end" fill="#111" font-weight="bold">LDH</text>
<line x1="455" y1="49.8" x2="457.7" y2="49.8" stroke="#333" stroke-width="0.9"/>
<rect x="465.1" y="62.2" width="64.65" height="13.2" fill="#6b8196"/>
<text x="527.45" y="70.66" font-size="5.2" text-anchor="end" fill="#111">0.0454</text>
<text x="452.4" y="71.84" font-size="8.5" text-anchor="end" fill="#111" font-weight="bold">Liver metastases</text>
<line x1="455" y1="68.8" x2="457.7" y2="68.8" stroke="#333" stroke-width="0.9"/>
<rect x="465.1" y="81.2" width="35.45" height="13.2" fill="#6b8196"/>
<text x="498.25" y="89.66" font-size="5.2" text-anchor="end" fill="#111">0.0248</text>
<text x="452.4" y="90.84" font-size="8.5" text-anchor="end" fill="#111" font-weight="bold">Factor 1</text>
<line x1="455" y1="87.8" x2="457.7" y2="87.8" stroke="#333" stroke-width="0.9"/>
<rect x="465.1" y="100.2" width="33.33" height="13.2" fill="#6b8196"/>
<text x="496.13" y="108.66" font-size="5.2" text-anchor="end" fill="#111">0.0233</text>
<text x="452.4" y="109.84" font-size="8.5" text-anchor="end" fill="#111" font-weight="bold">Factor 2</text>
<line x1="455" y1="106.8" x2="457.7" y2="106.8" stroke="#333" stroke-width="0.9"/>
<rect x="465.1" y="119.2" width="19.01" height="13.2" fill="#e08e86"/>
<text x="481.81" y="127.66" font-size="5.2" text-anchor="end" fill="#111">0.0132</text>
<text x="452.4" y="128.84" font-size="8.5" text-anchor="end" fill="#111" font-weight="bold">Factor 3</text>
<line x1="455" y1="125.8" x2="457.7" y2="125.8" stroke="#333" stroke-width="0.9"/>
<rect x="465.1" y="138.2" width="17.45" height="13.2" fill="#e08e86"/>
<text x="480.25" y="146.66" font-size="5.2" text-anchor="end" fill="#111">0.0121</text>
<text x="452.4" y="147.84" font-size="8.5" text-anchor="end" fill="#111" font-weight="bold">Smoking</text>
<line x1="455" y1="144.8" x2="457.7" y2="144.8" stroke="#333" stroke-width="0.9"/>
<rect x="457.7" y="19.6" width="176.6" height="135.6" fill="none" stroke="#444" stroke-width="1.0"/>
<line x1="465.4" y1="155.2" x2="465.4" y2="158.4" stroke="#333" stroke-width="1"/>
<text x="467.3" y="164.04" font-size="7.1" text-anchor="middle" fill="#4d4d4d">0.00</text>
<line x1="493.75" y1="155.2" x2="493.75" y2="158.4" stroke="#333" stroke-width="1"/>
<text x="495.65" y="164.04" font-size="7.1" text-anchor="middle" fill="#4d4d4d">0.02</text>
<line x1="522.1" y1="155.2" x2="522.1" y2="158.4" stroke="#333" stroke-width="1"/>
<text x="524" y="164.04" font-size="7.1" text-anchor="middle" fill="#4d4d4d">0.04</text>
<line x1="550.45" y1="155.2" x2="550.45" y2="158.4" stroke="#333" stroke-width="1"/>
<text x="552.35" y="164.04" font-size="7.1" text-anchor="middle" fill="#4d4d4d">0.06</text>
<line x1="578.8" y1="155.2" x2="578.8" y2="158.4" stroke="#333" stroke-width="1"/>
<text x="580.7" y="164.04" font-size="7.1" text-anchor="middle" fill="#4d4d4d">0.08</text>
<line x1="607.15" y1="155.2" x2="607.15" y2="158.4" stroke="#333" stroke-width="1"/>
<text x="609.05" y="164.04" font-size="7.1" text-anchor="middle" fill="#4d4d4d">0.10</text>
<text x="549.3" y="175.04" font-size="8.5" text-anchor="middle" fill="#333">Variable importance</text>
<text x="648.7" y="31.12" font-size="7.05" text-anchor="start" fill="#222">Z-score</text>
<defs><linearGradient id="gz" x1="0" y1="0" x2="0" y2="1"><stop offset="0" stop-color="#bd3f2c"/><stop offset="0.26" stop-color="#d5663e"/><stop offset="0.40" stop-color="#e78f5a"/><stop offset="0.50" stop-color="#eda06d"/><stop offset="0.62" stop-color="#e2b095"/><stop offset="0.76" stop-color="#d8bfb4"/><stop offset="0.88" stop-color="#cfc7d3"/><stop offset="1" stop-color="#c5cfea"/></linearGradient><linearGradient id="gg" x1="0" y1="0" x2="0" y2="1"><stop offset="0" stop-color="#2fd160"/><stop offset="0.5" stop-color="#9aeab0"/><stop offset="1" stop-color="#ffffff"/></linearGradient></defs>
<rect x="651.2" y="34.8" width="10.6" height="65.5" fill="url(#gz)" stroke="#111" stroke-width="1"/>
<text x="666" y="44.99" font-size="6.4" text-anchor="start" fill="#222">4</text>
<text x="666" y="54.39" font-size="6.4" text-anchor="start" fill="#222">3</text>
<text x="666" y="63.69" font-size="6.4" text-anchor="start" fill="#222">2</text>
<text x="666" y="73.29" font-size="6.4" text-anchor="start" fill="#222">1</text>
<text x="666" y="82.89" font-size="6.4" text-anchor="start" fill="#222">0</text>
<text x="666" y="92.29" font-size="6.4" text-anchor="start" fill="#222">−1</text>
<text x="649" y="113.81" font-size="7" text-anchor="start" fill="#222">RSF Score</text>
<rect x="651.3" y="119.4" width="9.5" height="49.3" fill="url(#gg)" stroke="#111" stroke-width="1"/>
<text x="664" y="124.59" font-size="6.4" text-anchor="start" fill="#222">2</text>
<line x1="651.3" y1="122.3" x2="652.8" y2="122.3" stroke="#fff" stroke-width="0.6"/>
<line x1="659.3" y1="122.3" x2="660.8" y2="122.3" stroke="#fff" stroke-width="0.6"/>
<text x="664" y="135.69" font-size="6.4" text-anchor="start" fill="#222">1</text>
<line x1="651.3" y1="133.4" x2="652.8" y2="133.4" stroke="#fff" stroke-width="0.6"/>
<line x1="659.3" y1="133.4" x2="660.8" y2="133.4" stroke="#fff" stroke-width="0.6"/>
<text x="664" y="146.79" font-size="6.4" text-anchor="start" fill="#222">0</text>
<line x1="651.3" y1="144.5" x2="652.8" y2="144.5" stroke="#fff" stroke-width="0.6"/>
<line x1="659.3" y1="144.5" x2="660.8" y2="144.5" stroke="#fff" stroke-width="0.6"/>
<text x="664" y="157.99" font-size="6.4" text-anchor="start" fill="#222">−1</text>
<line x1="651.3" y1="155.7" x2="652.8" y2="155.7" stroke="#fff" stroke-width="0.6"/>
<line x1="659.3" y1="155.7" x2="660.8" y2="155.7" stroke="#fff" stroke-width="0.6"/>
<text x="664" y="169.29" font-size="6.4" text-anchor="start" fill="#222">−2</text>
<line x1="651.3" y1="167" x2="652.8" y2="167" stroke="#fff" stroke-width="0.6"/>
<line x1="659.3" y1="167" x2="660.8" y2="167" stroke="#fff" stroke-width="0.6"/>
<text x="397.4" y="205.44" font-size="7.92" text-anchor="start" fill="#222" font-style="italic">Factor 1: Mean_PrimaryObjects_RadialDistribution_FracAtD_Hematoxylin_3of4</text>
<text x="397.4" y="219.64" font-size="7.92" text-anchor="start" fill="#222" font-style="italic">Factor 2: Mean_PrimaryObjects_Texture_Variance_Hematoxylin_3_00_256</text>
<text x="397.4" y="233.84" font-size="7.92" text-anchor="start" fill="#222" font-style="italic">Factor 3: Mean_PrimaryObjects_Texture_SumVariance_Hematoxylin_3_02_256</text>
<rect x="163.4" y="265.1" width="302.6" height="16.67" fill="#d9c1b6"/>
<rect x="163.1" y="265.1" width="5.73" height="16.67" fill="#e28a5d"/>
<rect x="168.23" y="265.1" width="3.16" height="16.67" fill="#d9c1b6"/>
<rect x="170.79" y="265.1" width="15.99" height="16.67" fill="#ddb59f"/>
<rect x="186.18" y="265.1" width="8.29" height="16.67" fill="#e8a478"/>
<rect x="193.87" y="265.1" width="5.73" height="16.67" fill="#ddb59f"/>
<rect x="199" y="265.1" width="10.86" height="16.67" fill="#d9c1b6"/>
<rect x="209.26" y="265.1" width="13.42" height="16.67" fill="#ea9566"/>
<rect x="222.08" y="265.1" width="3.16" height="16.67" fill="#e8a478"/>
<rect x="224.65" y="265.1" width="5.73" height="16.67" fill="#d8704b"/>
<rect x="229.77" y="265.1" width="8.29" height="16.67" fill="#d9c1b6"/>
<rect x="237.47" y="265.1" width="5.73" height="16.67" fill="#cdc7cf"/>
<rect x="242.6" y="265.1" width="5.73" height="16.67" fill="#d9c1b6"/>
<rect x="247.73" y="265.1" width="8.29" height="16.67" fill="#cdc7cf"/>
<rect x="255.42" y="265.1" width="13.42" height="16.67" fill="#c4cee4"/>
<rect x="268.24" y="265.1" width="3.16" height="16.67" fill="#cdc7cf"/>
<rect x="270.81" y="265.1" width="5.73" height="16.67" fill="#d9c1b6"/>
<rect x="275.93" y="265.1" width="15.99" height="16.67" fill="#cdc7cf"/>
<rect x="291.32" y="265.1" width="5.73" height="16.67" fill="#d9c1b6"/>
<rect x="296.45" y="265.1" width="5.73" height="16.67" fill="#c4cee4"/>
<rect x="301.58" y="265.1" width="10.86" height="16.67" fill="#cdc7cf"/>
<rect x="311.84" y="265.1" width="5.73" height="16.67" fill="#c9c8d6"/>
<rect x="316.96" y="265.1" width="3.16" height="16.67" fill="#cdc7cf"/>
<rect x="319.53" y="265.1" width="15.99" height="16.67" fill="#d9c1b6"/>
<rect x="334.92" y="265.1" width="5.73" height="16.67" fill="#e8a478"/>
<rect x="340.04" y="265.1" width="10.86" height="16.67" fill="#d9c1b6"/>
<rect x="350.3" y="265.1" width="5.73" height="16.67" fill="#cdc7cf"/>
<rect x="355.43" y="265.1" width="10.86" height="16.67" fill="#d9c1b6"/>
<rect x="365.69" y="265.1" width="13.42" height="16.67" fill="#ddb59f"/>
<rect x="378.51" y="265.1" width="3.16" height="16.67" fill="#c4cee4"/>
<rect x="381.07" y="265.1" width="13.42" height="16.67" fill="#ea9566"/>
<rect x="393.9" y="265.1" width="10.86" height="16.67" fill="#e8a478"/>
<rect x="404.15" y="265.1" width="23.68" height="16.67" fill="#ddb59f"/>
<rect x="427.23" y="265.1" width="10.86" height="16.67" fill="#e8a478"/>
<rect x="437.49" y="265.1" width="8.29" height="16.67" fill="#ddb59f"/>
<rect x="445.18" y="265.1" width="21.12" height="16.67" fill="#d9c1b6"/>
<rect x="163.4" y="281.17" width="302.6" height="16.67" fill="#d9c1b6"/>
<rect x="163.1" y="281.17" width="3.16" height="16.67" fill="#c4472f"/>
<rect x="165.66" y="281.17" width="3.16" height="16.67" fill="#ea9566"/>
<rect x="168.23" y="281.17" width="10.86" height="16.67" fill="#e8a478"/>
<rect x="178.49" y="281.17" width="5.73" height="16.67" fill="#ea9566"/>
<rect x="183.62" y="281.17" width="5.73" height="16.67" fill="#d8704b"/>
<rect x="188.74" y="281.17" width="21.12" height="16.67" fill="#e8a478"/>
<rect x="209.26" y="281.17" width="5.73" height="16.67" fill="#d9c1b6"/>
<rect x="214.39" y="281.17" width="10.86" height="16.67" fill="#ea9566"/>
<rect x="224.65" y="281.17" width="5.73" height="16.67" fill="#e8a478"/>
<rect x="229.77" y="281.17" width="8.29" height="16.67" fill="#ea9566"/>
<rect x="237.47" y="281.17" width="10.86" height="16.67" fill="#cdc7cf"/>
<rect x="247.73" y="281.17" width="5.73" height="16.67" fill="#d9c1b6"/>
<rect x="252.85" y="281.17" width="5.73" height="16.67" fill="#cdc7cf"/>
<rect x="257.98" y="281.17" width="13.42" height="16.67" fill="#d9c1b6"/>
<rect x="270.81" y="281.17" width="10.86" height="16.67" fill="#cdc7cf"/>
<rect x="281.06" y="281.17" width="10.86" height="16.67" fill="#d9c1b6"/>
<rect x="291.32" y="281.17" width="18.55" height="16.67" fill="#cdc7cf"/>
<rect x="309.27" y="281.17" width="5.73" height="16.67" fill="#d9c1b6"/>
<rect x="314.4" y="281.17" width="5.73" height="16.67" fill="#cdc7cf"/>
<rect x="319.53" y="281.17" width="5.73" height="16.67" fill="#d9c1b6"/>
<rect x="324.66" y="281.17" width="5.73" height="16.67" fill="#cdc7cf"/>
<rect x="329.79" y="281.17" width="5.73" height="16.67" fill="#d9c1b6"/>
<rect x="334.92" y="281.17" width="5.73" height="16.67" fill="#cdc7cf"/>
<rect x="340.04" y="281.17" width="5.73" height="16.67" fill="#d9c1b6"/>
<rect x="345.17" y="281.17" width="8.29" height="16.67" fill="#ddb59f"/>
<rect x="352.87" y="281.17" width="5.73" height="16.67" fill="#d9c1b6"/>
<rect x="357.99" y="281.17" width="5.73" height="16.67" fill="#ddb59f"/>
<rect x="363.12" y="281.17" width="8.29" height="16.67" fill="#d9c1b6"/>
<rect x="370.82" y="281.17" width="8.29" height="16.67" fill="#ddb59f"/>
<rect x="378.51" y="281.17" width="5.73" height="16.67" fill="#d9c1b6"/>
<rect x="383.64" y="281.17" width="8.29" height="16.67" fill="#d9c1b6"/>
<rect x="391.33" y="281.17" width="8.29" height="16.67" fill="#cdc7cf"/>
<rect x="399.03" y="281.17" width="15.99" height="16.67" fill="#c9c8d6"/>
<rect x="414.41" y="281.17" width="10.86" height="16.67" fill="#d9c1b6"/>
<rect x="424.67" y="281.17" width="5.73" height="16.67" fill="#cdc7cf"/>
<rect x="429.8" y="281.17" width="15.99" height="16.67" fill="#d9c1b6"/>
<rect x="445.18" y="281.17" width="13.42" height="16.67" fill="#cdc7cf"/>
<rect x="458.01" y="281.17" width="8.29" height="16.67" fill="#d9c1b6"/>
<rect x="163.4" y="297.24" width="302.6" height="16.67" fill="#d9c1b6"/>
<rect x="163.1" y="297.24" width="3.16" height="16.67" fill="#e8a478"/>
<rect x="165.66" y="297.24" width="3.16" height="16.67" fill="#c4472f"/>
<rect x="168.23" y="297.24" width="10.86" height="16.67" fill="#d8704b"/>
<rect x="178.49" y="297.24" width="8.29" height="16.67" fill="#ea9566"/>
<rect x="186.18" y="297.24" width="3.16" height="16.67" fill="#e8a478"/>
<rect x="188.74" y="297.24" width="10.86" height="16.67" fill="#ea9566"/>
<rect x="199" y="297.24" width="13.42" height="16.67" fill="#e8a478"/>
<rect x="211.82" y="297.24" width="3.16" height="16.67" fill="#ea9566"/>
<rect x="214.39" y="297.24" width="5.73" height="16.67" fill="#ddb59f"/>
<rect x="219.52" y="297.24" width="5.73" height="16.67" fill="#ea9566"/>
<rect x="224.65" y="297.24" width="10.86" height="16.67" fill="#e8a478"/>
<rect x="234.9" y="297.24" width="3.16" height="16.67" fill="#d9c1b6"/>
<rect x="237.47" y="297.24" width="10.86" height="16.67" fill="#cdc7cf"/>
<rect x="247.73" y="297.24" width="5.73" height="16.67" fill="#d9c1b6"/>
<rect x="252.85" y="297.24" width="15.99" height="16.67" fill="#cdc7cf"/>
<rect x="268.24" y="297.24" width="3.16" height="16.67" fill="#d9c1b6"/>
<rect x="270.81" y="297.24" width="18.55" height="16.67" fill="#cdc7cf"/>
<rect x="288.76" y="297.24" width="5.73" height="16.67" fill="#d9c1b6"/>
<rect x="293.88" y="297.24" width="15.99" height="16.67" fill="#cdc7cf"/>
<rect x="309.27" y="297.24" width="8.29" height="16.67" fill="#d9c1b6"/>
<rect x="316.96" y="297.24" width="5.73" height="16.67" fill="#cdc7cf"/>
<rect x="322.09" y="297.24" width="5.73" height="16.67" fill="#d9c1b6"/>
<rect x="327.22" y="297.24" width="8.29" height="16.67" fill="#cdc7cf"/>
<rect x="334.92" y="297.24" width="5.73" height="16.67" fill="#d9c1b6"/>
<rect x="340.04" y="297.24" width="5.73" height="16.67" fill="#ddb59f"/>
<rect x="345.17" y="297.24" width="10.86" height="16.67" fill="#d9c1b6"/>
<rect x="355.43" y="297.24" width="10.86" height="16.67" fill="#ddb59f"/>
<rect x="365.69" y="297.24" width="5.73" height="16.67" fill="#d9c1b6"/>
<rect x="370.82" y="297.24" width="8.29" height="16.67" fill="#ddb59f"/>
<rect x="378.51" y="297.24" width="5.73" height="16.67" fill="#d9c1b6"/>
<rect x="383.64" y="297.24" width="8.29" height="16.67" fill="#cdc7cf"/>
<rect x="391.33" y="297.24" width="8.29" height="16.67" fill="#d9c1b6"/>
<rect x="399.03" y="297.24" width="15.99" height="16.67" fill="#cdc7cf"/>
<rect x="414.41" y="297.24" width="10.86" height="16.67" fill="#d9c1b6"/>
<rect x="424.67" y="297.24" width="8.29" height="16.67" fill="#cdc7cf"/>
<rect x="432.36" y="297.24" width="13.42" height="16.67" fill="#d9c1b6"/>
<rect x="445.18" y="297.24" width="13.42" height="16.67" fill="#cdc7cf"/>
<rect x="458.01" y="297.24" width="8.29" height="16.67" fill="#d9c1b6"/>
<rect x="163.4" y="313.31" width="302.6" height="16.67" fill="#ddb59f"/>
<rect x="173.36" y="313.31" width="3.16" height="16.67" fill="#e8a478"/>
<rect x="209.26" y="313.31" width="3.16" height="16.67" fill="#e8a478"/>
<rect x="216.95" y="313.31" width="3.16" height="16.67" fill="#e8a478"/>
<rect x="229.77" y="313.31" width="3.16" height="16.67" fill="#e8a478"/>
<rect x="242.6" y="313.31" width="5.73" height="16.67" fill="#e8a478"/>
<rect x="278.5" y="313.31" width="5.73" height="16.67" fill="#e8a478"/>
<rect x="293.88" y="313.31" width="21.12" height="16.67" fill="#e8a478"/>
<rect x="324.66" y="313.31" width="3.16" height="16.67" fill="#e8a478"/>
<rect x="360.56" y="313.31" width="5.73" height="16.67" fill="#e8a478"/>
<rect x="378.51" y="313.31" width="3.16" height="16.67" fill="#e8a478"/>
<rect x="414.41" y="313.31" width="8.29" height="16.67" fill="#e8a478"/>
<rect x="163.4" y="329.38" width="302.6" height="16.67" fill="#ddb59f"/>
<rect x="165.66" y="329.38" width="5.73" height="16.67" fill="#e8a478"/>
<rect x="183.62" y="329.38" width="3.16" height="16.67" fill="#e8a478"/>
<rect x="193.87" y="329.38" width="3.16" height="16.67" fill="#e8a478"/>
<rect x="209.26" y="329.38" width="5.73" height="16.67" fill="#e8a478"/>
<rect x="234.9" y="329.38" width="5.73" height="16.67" fill="#e8a478"/>
<rect x="247.73" y="329.38" width="18.55" height="16.67" fill="#e8a478"/>
<rect x="304.14" y="329.38" width="8.29" height="16.67" fill="#e8a478"/>
<rect x="314.4" y="329.38" width="5.73" height="16.67" fill="#e8a478"/>
<rect x="342.61" y="329.38" width="5.73" height="16.67" fill="#e8a478"/>
<rect x="373.38" y="329.38" width="5.73" height="16.67" fill="#e8a478"/>
<rect x="393.9" y="329.38" width="3.16" height="16.67" fill="#e8a478"/>
<rect x="409.28" y="329.38" width="23.68" height="16.67" fill="#e8a478"/>
<rect x="163.4" y="345.45" width="302.6" height="16.67" fill="#ddb59f"/>
<rect x="163.1" y="345.45" width="5.73" height="16.67" fill="#e8a478"/>
<rect x="173.36" y="345.45" width="13.42" height="16.67" fill="#e8a478"/>
<rect x="188.74" y="345.45" width="8.29" height="16.67" fill="#e8a478"/>
<rect x="209.26" y="345.45" width="5.73" height="16.67" fill="#e8a478"/>
<rect x="216.95" y="345.45" width="8.29" height="16.67" fill="#e8a478"/>
<rect x="232.34" y="345.45" width="3.16" height="16.67" fill="#e8a478"/>
<rect x="237.47" y="345.45" width="23.68" height="16.67" fill="#e8a478"/>
<rect x="281.06" y="345.45" width="23.68" height="16.67" fill="#e8a478"/>
<rect x="306.71" y="345.45" width="3.16" height="16.67" fill="#e8a478"/>
<rect x="322.09" y="345.45" width="33.94" height="16.67" fill="#e8a478"/>
<rect x="360.56" y="345.45" width="21.12" height="16.67" fill="#e8a478"/>
<rect x="388.77" y="345.45" width="5.73" height="16.67" fill="#e8a478"/>
<rect x="399.03" y="345.45" width="13.42" height="16.67" fill="#e8a478"/>
<rect x="414.41" y="345.45" width="51.89" height="16.67" fill="#e8a478"/>
<rect x="163.4" y="361.52" width="302.6" height="16.67" fill="#d2c4c4"/>
<rect x="165.66" y="361.52" width="3.16" height="16.67" fill="#ea9566"/>
<rect x="178.49" y="361.52" width="8.29" height="16.67" fill="#e8a478"/>
<rect x="196.44" y="361.52" width="3.16" height="16.67" fill="#e8a478"/>
<rect x="204.13" y="361.52" width="5.73" height="16.67" fill="#d9c1b6"/>
<rect x="216.95" y="361.52" width="8.29" height="16.67" fill="#d9c1b6"/>
<rect x="227.21" y="361.52" width="8.29" height="16.67" fill="#ea9566"/>
<rect x="234.9" y="361.52" width="3.16" height="16.67" fill="#d8704b"/>
<rect x="237.47" y="361.52" width="3.16" height="16.67" fill="#c4472f"/>
<rect x="240.03" y="361.52" width="8.29" height="16.67" fill="#cf5f3f"/>
<rect x="247.73" y="361.52" width="13.42" height="16.67" fill="#d9c1b6"/>
<rect x="288.76" y="361.52" width="10.86" height="16.67" fill="#d9c1b6"/>
<rect x="301.58" y="361.52" width="5.73" height="16.67" fill="#ea9566"/>
<rect x="314.4" y="361.52" width="13.42" height="16.67" fill="#e28a5d"/>
<rect x="327.22" y="361.52" width="5.73" height="16.67" fill="#e8a478"/>
<rect x="332.35" y="361.52" width="8.29" height="16.67" fill="#d9c1b6"/>
<rect x="340.04" y="361.52" width="5.73" height="16.67" fill="#e8a478"/>
<rect x="360.56" y="361.52" width="5.73" height="16.67" fill="#d9c1b6"/>
<rect x="393.9" y="361.52" width="5.73" height="16.67" fill="#d9c1b6"/>
<rect x="419.54" y="361.52" width="5.73" height="16.67" fill="#d9c1b6"/>
<rect x="440.06" y="361.52" width="5.73" height="16.67" fill="#d9c1b6"/>
<rect x="163.4" y="380" width="302.6" height="10.7" fill="#c5e8e2"/>
<rect x="163.1" y="380" width="10.86" height="10.7" fill="#7ecbbf"/>
<rect x="175.92" y="380" width="5.73" height="10.7" fill="#7ecbbf"/>
<rect x="183.62" y="380" width="5.73" height="10.7" fill="#7ecbbf"/>
<rect x="196.44" y="380" width="8.29" height="10.7" fill="#7ecbbf"/>
<rect x="206.69" y="380" width="8.29" height="10.7" fill="#7ecbbf"/>
<rect x="219.52" y="380" width="3.16" height="10.7" fill="#7ecbbf"/>
<rect x="224.65" y="380" width="5.73" height="10.7" fill="#7ecbbf"/>
<rect x="247.73" y="380" width="5.73" height="10.7" fill="#7ecbbf"/>
<rect x="265.68" y="380" width="10.86" height="10.7" fill="#7ecbbf"/>
<rect x="278.5" y="380" width="3.16" height="10.7" fill="#7ecbbf"/>
<rect x="283.63" y="380" width="5.73" height="10.7" fill="#7ecbbf"/>
<rect x="296.45" y="380" width="3.16" height="10.7" fill="#7ecbbf"/>
<rect x="309.27" y="380" width="3.16" height="10.7" fill="#7ecbbf"/>
<rect x="319.53" y="380" width="3.16" height="10.7" fill="#7ecbbf"/>
<rect x="324.66" y="380" width="3.16" height="10.7" fill="#7ecbbf"/>
<rect x="337.48" y="380" width="3.16" height="10.7" fill="#7ecbbf"/>
<rect x="345.17" y="380" width="3.16" height="10.7" fill="#7ecbbf"/>
<rect x="350.3" y="380" width="3.16" height="10.7" fill="#7ecbbf"/>
<rect x="357.99" y="380" width="8.29" height="10.7" fill="#7ecbbf"/>
<rect x="370.82" y="380" width="3.16" height="10.7" fill="#7ecbbf"/>
<rect x="381.07" y="380" width="8.29" height="10.7" fill="#7ecbbf"/>
<rect x="391.33" y="380" width="3.16" height="10.7" fill="#7ecbbf"/>
<rect x="393.9" y="380" width="3.16" height="10.7" fill="#7ecbbf"/>
<rect x="401.59" y="380" width="10.86" height="10.7" fill="#7ecbbf"/>
<rect x="414.41" y="380" width="3.16" height="10.7" fill="#7ecbbf"/>
<rect x="432.36" y="380" width="15.99" height="10.7" fill="#7ecbbf"/>
<rect x="450.31" y="380" width="3.16" height="10.7" fill="#7ecbbf"/>
<rect x="455.44" y="380" width="3.16" height="10.7" fill="#7ecbbf"/>
<rect x="460.57" y="380" width="5.73" height="10.7" fill="#7ecbbf"/>
<rect x="163.4" y="390.9" width="302.6" height="10.3" fill="#e89b99"/>
<rect x="209.26" y="390.9" width="3.16" height="10.3" fill="#fbd7c2"/>
<rect x="229.77" y="390.9" width="5.73" height="10.3" fill="#fbd7c2"/>
<rect x="237.47" y="390.9" width="10.86" height="10.3" fill="#fbd7c2"/>
<rect x="250.29" y="390.9" width="10.86" height="10.3" fill="#fbd7c2"/>
<rect x="263.11" y="390.9" width="3.16" height="10.3" fill="#fbd7c2"/>
<rect x="288.76" y="390.9" width="3.16" height="10.3" fill="#fbd7c2"/>
<rect x="293.88" y="390.9" width="15.99" height="10.3" fill="#fbd7c2"/>
<rect x="314.4" y="390.9" width="5.73" height="10.3" fill="#fbd7c2"/>
<rect x="322.09" y="390.9" width="8.29" height="10.3" fill="#fbd7c2"/>
<rect x="332.35" y="390.9" width="5.73" height="10.3" fill="#fbd7c2"/>
<rect x="340.04" y="390.9" width="8.29" height="10.3" fill="#fbd7c2"/>
<rect x="373.38" y="390.9" width="3.16" height="10.3" fill="#fbd7c2"/>
<rect x="378.51" y="390.9" width="3.16" height="10.3" fill="#fbd7c2"/>
<rect x="409.28" y="390.9" width="23.68" height="10.3" fill="#fbd7c2"/>
<rect x="163.1" y="401.5" width="3.16" height="10.8" fill="#e1f7e6"/>
<rect x="165.66" y="401.5" width="5.73" height="10.8" fill="#b8efc5"/>
<rect x="170.79" y="401.5" width="3.16" height="10.8" fill="#f6fdf7"/>
<rect x="173.36" y="401.5" width="3.16" height="10.8" fill="#b8efc5"/>
<rect x="175.92" y="401.5" width="5.73" height="10.8" fill="#e1f7e6"/>
<rect x="181.05" y="401.5" width="5.73" height="10.8" fill="#b8efc5"/>
<rect x="186.18" y="401.5" width="3.16" height="10.8" fill="#f6fdf7"/>
<rect x="188.74" y="401.5" width="5.73" height="10.8" fill="#e1f7e6"/>
<rect x="193.87" y="401.5" width="3.16" height="10.8" fill="#b8efc5"/>
<rect x="196.44" y="401.5" width="5.73" height="10.8" fill="#e1f7e6"/>
<rect x="201.57" y="401.5" width="8.29" height="10.8" fill="#f6fdf7"/>
<rect x="209.26" y="401.5" width="3.16" height="10.8" fill="#62dc82"/>
<rect x="211.82" y="401.5" width="8.29" height="10.8" fill="#b8efc5"/>
<rect x="219.52" y="401.5" width="8.29" height="10.8" fill="#e1f7e6"/>
<rect x="227.21" y="401.5" width="3.16" height="10.8" fill="#b8efc5"/>
<rect x="229.77" y="401.5" width="8.29" height="10.8" fill="#62dc82"/>
<rect x="237.47" y="401.5" width="3.16" height="10.8" fill="#8be6a3"/>
<rect x="237.47" y="401.5" width="10.86" height="10.8" fill="#48d76d"/>
<rect x="247.73" y="401.5" width="13.42" height="10.8" fill="#62dc82"/>
<rect x="260.55" y="401.5" width="5.73" height="10.8" fill="#8be6a3"/>
<rect x="265.68" y="401.5" width="13.42" height="10.8" fill="#e1f7e6"/>
<rect x="278.5" y="401.5" width="5.73" height="10.8" fill="#b8efc5"/>
<rect x="283.63" y="401.5" width="5.73" height="10.8" fill="#e1f7e6"/>
<rect x="288.76" y="401.5" width="5.73" height="10.8" fill="#b8efc5"/>
<rect x="293.88" y="401.5" width="15.99" height="10.8" fill="#62dc82"/>
<rect x="309.27" y="401.5" width="5.73" height="10.8" fill="#8be6a3"/>
<rect x="314.4" y="401.5" width="5.73" height="10.8" fill="#48d76d"/>
<rect x="319.53" y="401.5" width="18.55" height="10.8" fill="#62dc82"/>
<rect x="337.48" y="401.5" width="3.16" height="10.8" fill="#8be6a3"/>
<rect x="340.04" y="401.5" width="8.29" height="10.8" fill="#48d76d"/>
<rect x="347.74" y="401.5" width="10.86" height="10.8" fill="#e1f7e6"/>
<rect x="357.99" y="401.5" width="3.16" height="10.8" fill="#f6fdf7"/>
<rect x="360.56" y="401.5" width="5.73" height="10.8" fill="#b8efc5"/>
<rect x="365.69" y="401.5" width="8.29" height="10.8" fill="#e1f7e6"/>
<rect x="373.38" y="401.5" width="8.29" height="10.8" fill="#8be6a3"/>
<rect x="381.07" y="401.5" width="13.42" height="10.8" fill="#f6fdf7"/>
<rect x="393.9" y="401.5" width="3.16" height="10.8" fill="#b8efc5"/>
<rect x="396.46" y="401.5" width="13.42" height="10.8" fill="#e1f7e6"/>
<rect x="409.28" y="401.5" width="23.68" height="10.8" fill="#62dc82"/>
<rect x="432.36" y="401.5" width="23.68" height="10.8" fill="#e1f7e6"/>
<rect x="455.44" y="401.5" width="10.86" height="10.8" fill="#b8efc5"/>
<rect x="163.4" y="427.4" width="2.71" height="5.8" fill="#000"/>
<rect x="165.96" y="422.2" width="2.71" height="11" fill="#000"/>
<rect x="168.53" y="425.6" width="2.71" height="7.6" fill="#000"/>
<rect x="171.09" y="431.4" width="2.71" height="1.8" fill="#000"/>
<rect x="173.66" y="432" width="2.71" height="1.2" fill="#000"/>
<rect x="176.22" y="425" width="2.71" height="8.2" fill="#000"/>
<rect x="178.79" y="424.2" width="2.71" height="9" fill="#000"/>
<rect x="181.35" y="431.4" width="2.71" height="1.8" fill="#000"/>
<rect x="183.92" y="423.9" width="2.71" height="9.3" fill="#000"/>
<rect x="186.48" y="421.5" width="2.71" height="11.7" fill="#000"/>
<rect x="189.04" y="429.7" width="2.71" height="3.5" fill="#000"/>
<rect x="191.61" y="432" width="2.71" height="1.2" fill="#000"/>
<rect x="194.17" y="430.3" width="2.71" height="2.9" fill="#000"/>
<rect x="196.74" y="420.9" width="2.71" height="12.3" fill="#000"/>
<rect x="199.3" y="422.1" width="2.71" height="11.1" fill="#000"/>
<rect x="201.87" y="425" width="2.71" height="8.2" fill="#000"/>
<rect x="204.43" y="425.6" width="2.71" height="7.6" fill="#000"/>
<rect x="206.99" y="429.1" width="2.71" height="4.1" fill="#000"/>
<rect x="209.56" y="430.3" width="2.71" height="2.9" fill="#000"/>
<rect x="212.12" y="418.6" width="2.71" height="14.6" fill="#000"/>
<rect x="214.69" y="429.1" width="2.71" height="4.1" fill="#000"/>
<rect x="217.25" y="425" width="2.71" height="8.2" fill="#000"/>
<rect x="219.82" y="416.8" width="2.71" height="16.4" fill="#000"/>
<rect x="222.38" y="429.1" width="2.71" height="4.1" fill="#000"/>
<rect x="224.95" y="426.8" width="2.71" height="6.4" fill="#000"/>
<rect x="227.51" y="430.9" width="2.71" height="2.3" fill="#000"/>
<rect x="230.07" y="432.6" width="2.71" height="0.6" fill="#000"/>
<rect x="232.64" y="423.9" width="2.71" height="9.3" fill="#000"/>
<rect x="235.2" y="430.3" width="2.71" height="2.9" fill="#000"/>
<rect x="237.77" y="432.6" width="2.71" height="0.6" fill="#000"/>
<rect x="240.33" y="425" width="2.71" height="8.2" fill="#000"/>
<rect x="242.9" y="431.4" width="2.71" height="1.8" fill="#000"/>
<rect x="245.46" y="427.9" width="2.71" height="5.3" fill="#000"/>
<rect x="248.03" y="431.4" width="2.71" height="1.8" fill="#000"/>
<rect x="250.59" y="427.4" width="2.71" height="5.8" fill="#000"/>
<rect x="253.15" y="431.2" width="2.71" height="2" fill="#000"/>
<rect x="255.72" y="432.6" width="2.71" height="0.6" fill="#000"/>
<rect x="258.28" y="430.3" width="2.71" height="2.9" fill="#000"/>
<rect x="260.85" y="425" width="2.71" height="8.2" fill="#000"/>
<rect x="263.41" y="430.3" width="2.71" height="2.9" fill="#000"/>
<rect x="265.98" y="423.3" width="2.71" height="9.9" fill="#000"/>
<rect x="268.54" y="430.3" width="2.71" height="2.9" fill="#000"/>
<rect x="271.11" y="425.6" width="2.71" height="7.6" fill="#000"/>
<rect x="273.67" y="430.9" width="2.71" height="2.3" fill="#000"/>
<rect x="276.23" y="430.9" width="2.71" height="2.3" fill="#000"/>
<rect x="278.8" y="426.8" width="2.71" height="6.4" fill="#000"/>
<rect x="281.36" y="432" width="2.71" height="1.2" fill="#000"/>
<rect x="283.93" y="425" width="2.71" height="8.2" fill="#000"/>
<rect x="286.49" y="427.9" width="2.71" height="5.3" fill="#000"/>
<rect x="289.06" y="427.9" width="2.71" height="5.3" fill="#000"/>
<rect x="291.62" y="426.2" width="2.71" height="7" fill="#000"/>
<rect x="294.18" y="432" width="2.71" height="1.2" fill="#000"/>
<rect x="296.75" y="428.5" width="2.71" height="4.7" fill="#000"/>
<rect x="299.31" y="429.1" width="2.71" height="4.1" fill="#000"/>
<rect x="301.88" y="432" width="2.71" height="1.2" fill="#000"/>
<rect x="304.44" y="429.7" width="2.71" height="3.5" fill="#000"/>
<rect x="307.01" y="432" width="2.71" height="1.2" fill="#000"/>
<rect x="309.57" y="415.1" width="2.71" height="18.1" fill="#000"/>
<rect x="312.14" y="426.2" width="2.71" height="7" fill="#000"/>
<rect x="314.7" y="432.6" width="2.71" height="0.6" fill="#000"/>
<rect x="317.26" y="432.6" width="2.71" height="0.6" fill="#000"/>
<rect x="319.83" y="425.6" width="2.71" height="7.6" fill="#000"/>
<rect x="322.39" y="431.4" width="2.71" height="1.8" fill="#000"/>
<rect x="324.96" y="432.6" width="2.71" height="0.6" fill="#000"/>
<rect x="327.52" y="430.3" width="2.71" height="2.9" fill="#000"/>
<rect x="330.09" y="426" width="2.71" height="7.2" fill="#000"/>
<rect x="332.65" y="430.3" width="2.71" height="2.9" fill="#000"/>
<rect x="335.22" y="429.7" width="2.71" height="3.5" fill="#000"/>
<rect x="337.78" y="422.3" width="2.71" height="10.9" fill="#000"/>
<rect x="340.34" y="432" width="2.71" height="1.2" fill="#000"/>
<rect x="342.91" y="430.9" width="2.71" height="2.3" fill="#000"/>
<rect x="345.47" y="430.3" width="2.71" height="2.9" fill="#000"/>
<rect x="348.04" y="427.9" width="2.71" height="5.3" fill="#000"/>
<rect x="350.6" y="429.1" width="2.71" height="4.1" fill="#000"/>
<rect x="353.17" y="423.3" width="2.71" height="9.9" fill="#000"/>
<rect x="355.73" y="429.1" width="2.71" height="4.1" fill="#000"/>
<rect x="358.29" y="430.9" width="2.71" height="2.3" fill="#000"/>
<rect x="360.86" y="429.1" width="2.71" height="4.1" fill="#000"/>
<rect x="363.42" y="429.1" width="2.71" height="4.1" fill="#000"/>
<rect x="365.99" y="425" width="2.71" height="8.2" fill="#000"/>
<rect x="368.55" y="430.3" width="2.71" height="2.9" fill="#000"/>
<rect x="371.12" y="427.4" width="2.71" height="5.8" fill="#000"/>
<rect x="373.68" y="431.4" width="2.71" height="1.8" fill="#000"/>
<rect x="376.25" y="430.3" width="2.71" height="2.9" fill="#000"/>
<rect x="378.81" y="432" width="2.71" height="1.2" fill="#000"/>
<rect x="381.37" y="413.9" width="2.71" height="19.3" fill="#000"/>
<rect x="383.94" y="424.4" width="2.71" height="8.8" fill="#000"/>
<rect x="386.5" y="425.6" width="2.71" height="7.6" fill="#000"/>
<rect x="389.07" y="426" width="2.71" height="7.2" fill="#000"/>
<rect x="391.63" y="429.1" width="2.71" height="4.1" fill="#000"/>
<rect x="394.2" y="431" width="2.71" height="2.2" fill="#000"/>
<rect x="396.76" y="428.5" width="2.71" height="4.7" fill="#000"/>
<rect x="399.33" y="426.7" width="2.71" height="6.5" fill="#000"/>
<rect x="401.89" y="425.4" width="2.71" height="7.8" fill="#000"/>
<rect x="404.45" y="427.9" width="2.71" height="5.3" fill="#000"/>
<rect x="407.02" y="424.1" width="2.71" height="9.1" fill="#000"/>
<rect x="409.58" y="432.8" width="2.71" height="0.4" fill="#000"/>
<rect x="412.15" y="429.1" width="2.71" height="4.1" fill="#000"/>
<rect x="414.71" y="431.6" width="2.71" height="1.6" fill="#000"/>
<rect x="417.28" y="431" width="2.71" height="2.2" fill="#000"/>
<rect x="419.84" y="431" width="2.71" height="2.2" fill="#000"/>
<rect x="422.41" y="426.7" width="2.71" height="6.5" fill="#000"/>
<rect x="424.97" y="431.6" width="2.71" height="1.6" fill="#000"/>
<rect x="427.53" y="430.3" width="2.71" height="2.9" fill="#000"/>
<rect x="430.1" y="431.6" width="2.71" height="1.6" fill="#000"/>
<rect x="432.66" y="431.6" width="2.71" height="1.6" fill="#000"/>
<rect x="435.23" y="426" width="2.71" height="7.2" fill="#000"/>
<rect x="437.79" y="428.5" width="2.71" height="4.7" fill="#000"/>
<rect x="440.36" y="430.3" width="2.71" height="2.9" fill="#000"/>
<rect x="442.92" y="424.8" width="2.71" height="8.4" fill="#000"/>
<rect x="445.48" y="429.1" width="2.71" height="4.1" fill="#000"/>
<rect x="448.05" y="429.1" width="2.71" height="4.1" fill="#000"/>
<rect x="450.61" y="418.6" width="2.71" height="14.6" fill="#000"/>
<rect x="453.18" y="429.7" width="2.71" height="3.5" fill="#000"/>
<rect x="455.74" y="422.9" width="2.71" height="10.3" fill="#000"/>
<rect x="458.31" y="428.5" width="2.71" height="4.7" fill="#000"/>
<rect x="460.87" y="429.7" width="2.71" height="3.5" fill="#000"/>
<rect x="463.44" y="431.6" width="2.71" height="1.6" fill="#000"/>
<line x1="162.3" y1="413" x2="162.3" y2="433.6" stroke="#111" stroke-width="0.9"/>
<line x1="160.6" y1="419.9" x2="162.3" y2="419.9" stroke="#111" stroke-width="0.8"/>
<text x="158.9" y="422.37" font-size="6.9" text-anchor="end" fill="#333">40</text>
<line x1="160.6" y1="426.6" x2="162.3" y2="426.6" stroke="#111" stroke-width="0.8"/>
<text x="158.9" y="429.07" font-size="6.9" text-anchor="end" fill="#333">20</text>
<line x1="160.6" y1="433.2" x2="162.3" y2="433.2" stroke="#111" stroke-width="0.8"/>
<text x="158.9" y="435.67" font-size="6.9" text-anchor="end" fill="#333">0</text>
<text x="468.3" y="273.43" font-size="8.45" text-anchor="start" fill="#111" font-weight="bold">Factor 1</text>
<text x="468.3" y="290.03" font-size="8.45" text-anchor="start" fill="#111" font-weight="bold">Factor 2</text>
<text x="468.3" y="306.43" font-size="8.45" text-anchor="start" fill="#111" font-weight="bold">Factor 3</text>
<text x="468.3" y="322.83" font-size="8.45" text-anchor="start" fill="#111" font-weight="bold">Liver metastases</text>
<text x="468.3" y="339.23" font-size="8.45" text-anchor="start" fill="#111" font-weight="bold">Bone metastases</text>
<text x="468.3" y="355.63" font-size="8.45" text-anchor="start" fill="#111" font-weight="bold">Smoking status</text>
<text x="468.3" y="371.93" font-size="8.45" text-anchor="start" fill="#111" font-weight="bold">LDH</text>
<text x="468.3" y="388.03" font-size="8.45" text-anchor="start" fill="#111" font-weight="bold">Living status</text>
<text x="468.3" y="399.33" font-size="8.45" text-anchor="start" fill="#111" font-weight="bold">RSF risk group</text>
<text x="468.3" y="410.13" font-size="8.45" text-anchor="start" fill="#111" font-weight="bold">RSF Score</text>
<text x="468.3" y="431.23" font-size="8.45" text-anchor="start" fill="#111" font-weight="bold">OS</text>
<text x="541.5" y="398.32" font-size="7.05" text-anchor="start" fill="#222">Living status</text>
<rect x="541.5" y="403.5" width="8.8" height="8.6" fill="#7ecbbf"/>
<rect x="541.5" y="413.7" width="8.8" height="8.6" fill="#c5e8e2"/>
<text x="553.6" y="410.82" font-size="7.05" text-anchor="start" fill="#222">Alive</text>
<text x="553.6" y="420.82" font-size="7.05" text-anchor="start" fill="#222">Dead</text>
<text x="595.3" y="398.32" font-size="7.05" text-anchor="start" fill="#222">RSF risk group</text>
<rect x="595.3" y="403.5" width="8.8" height="8.6" fill="#e89b99"/>
<rect x="595.3" y="413.7" width="8.8" height="8.6" fill="#fbd7c2"/>
<text x="607.8" y="410.82" font-size="7.05" text-anchor="start" fill="#222">Low-risk</text>
<text x="607.8" y="420.82" font-size="7.05" text-anchor="start" fill="#222">High-risk</text>
<path d="M164.68 236.8L164.68 265.4M167.25 236.8L167.25 265.4M164.68 236.8L167.25 236.8M169.81 254.79L169.81 265.4M172.38 254.79L172.38 265.4M169.81 254.79L172.38 254.79M174.94 255.04L174.94 265.4M177.5 255.04L177.5 265.4M174.94 255.04L177.5 255.04M171.09 251.9L171.09 254.79M176.22 251.9L176.22 255.04M171.09 251.9L176.22 251.9M180.07 259.94L180.07 265.4M182.63 259.94L182.63 265.4M180.07 259.94L182.63 259.94M185.2 258.34L185.2 265.4M187.76 258.34L187.76 265.4M185.2 258.34L187.76 258.34M181.35 256.08L181.35 259.94M186.48 256.08L186.48 258.34M181.35 256.08L186.48 256.08M183.92 253.2L183.92 256.08M190.33 253.2L190.33 265.4M183.92 253.2L190.33 253.2M173.66 247.3L173.66 251.9M187.12 247.3L187.12 253.2M173.66 247.3L187.12 247.3M192.89 259.87L192.89 265.4M195.46 259.87L195.46 265.4M192.89 259.87L195.46 259.87M194.17 257.34L194.17 259.87M198.02 257.34L198.02 265.4M194.17 257.34L198.02 257.34M200.58 257.33L200.58 265.4M203.15 257.33L203.15 265.4M200.58 257.33L203.15 257.33M196.1 255.31L196.1 257.34M201.87 255.31L201.87 257.33M196.1 255.31L201.87 255.31M205.71 255.74L205.71 265.4M208.28 255.74L208.28 265.4M205.71 255.74L208.28 255.74M198.98 252L198.98 255.31M206.99 252L206.99 255.74M198.98 252L206.99 252M210.84 257.96L210.84 265.4M213.41 257.96L213.41 265.4M210.84 257.96L213.41 257.96M212.12 254.5L212.12 257.96M215.97 254.5L215.97 265.4M212.12 254.5L215.97 254.5M202.99 249.3L202.99 252M214.05 249.3L214.05 254.5M202.99 249.3L214.05 249.3M180.39 244.7L180.39 247.3M208.52 244.7L208.52 249.3M180.39 244.7L208.52 244.7M218.53 253.9L218.53 265.4M221.1 253.9L221.1 265.4M218.53 253.9L221.1 253.9M223.66 256.16L223.66 265.4M226.23 256.16L226.23 265.4M223.66 256.16L226.23 256.16M219.82 252L219.82 253.9M224.95 252L224.95 256.16M219.82 252L224.95 252M222.38 246.2L222.38 252M228.79 246.2L228.79 265.4M222.38 246.2L228.79 246.2M194.45 240.3L194.45 244.7M225.59 240.3L225.59 246.2M194.45 240.3L225.59 240.3M165.96 223.9L165.96 236.8M210.02 223.9L210.02 240.3M165.96 223.9L210.02 223.9M231.36 257.5L231.36 265.4M233.92 257.5L233.92 265.4M231.36 257.5L233.92 257.5M232.64 250.8L232.64 257.5M236.49 250.8L236.49 265.4M232.64 250.8L236.49 250.8M239.05 259.8L239.05 265.4M241.61 259.8L241.61 265.4M239.05 259.8L241.61 259.8M244.18 260.5L244.18 265.4M246.74 260.5L246.74 265.4M244.18 260.5L246.74 260.5M240.33 255.7L240.33 259.8M245.46 255.7L245.46 260.5M240.33 255.7L245.46 255.7M234.56 239.4L234.56 250.8M242.9 239.4L242.9 255.7M234.56 239.4L242.9 239.4M249.31 260.31L249.31 265.4M251.87 260.31L251.87 265.4M249.31 260.31L251.87 260.31M254.44 262.8L254.44 265.4M257 262.8L257 265.4M254.44 262.8L257 262.8M259.57 262.49L259.57 265.4M262.13 262.49L262.13 265.4M259.57 262.49L262.13 262.49M255.72 260.62L255.72 262.8M260.85 260.62L260.85 262.49M255.72 260.62L260.85 260.62M250.59 258.36L250.59 260.31M258.28 258.36L258.28 260.62M250.59 258.36L258.28 258.36M264.69 262.8L264.69 265.4M267.26 262.8L267.26 265.4M264.69 262.8L267.26 262.8M269.82 262.8L269.82 265.4M272.39 262.8L272.39 265.4M269.82 262.8L272.39 262.8M265.98 261.2L265.98 262.8M271.11 261.2L271.11 262.8M265.98 261.2L271.11 261.2M268.54 257.98L268.54 261.2M274.95 257.98L274.95 265.4M268.54 257.98L274.95 257.98M254.44 255.07L254.44 258.36M271.75 255.07L271.75 257.98M254.44 255.07L271.75 255.07M277.52 260.49L277.52 265.4M280.08 260.49L280.08 265.4M277.52 260.49L280.08 260.49M282.64 260.06L282.64 265.4M285.21 260.06L285.21 265.4M282.64 260.06L285.21 260.06M278.8 257.6L278.8 260.49M283.93 257.6L283.93 260.06M278.8 257.6L283.93 257.6M287.77 261.9L287.77 265.4M290.34 261.9L290.34 265.4M287.77 261.9L290.34 261.9M292.9 262.8L292.9 265.4M295.47 262.8L295.47 265.4M292.9 262.8L295.47 262.8M294.18 260.96L294.18 262.8M298.03 260.96L298.03 265.4M294.18 260.96L298.03 260.96M289.06 258.4L289.06 261.9M296.11 258.4L296.11 260.96M289.06 258.4L296.11 258.4M281.36 254.21L281.36 257.6M292.58 254.21L292.58 258.4M281.36 254.21L292.58 254.21M263.09 251.7L263.09 255.07M286.97 251.7L286.97 254.21M263.09 251.7L286.97 251.7M300.6 257L300.6 265.4M303.16 257L303.16 265.4M300.6 257L303.16 257M275.03 247.8L275.03 251.7M301.88 247.8L301.88 257M275.03 247.8L301.88 247.8M305.72 257.52L305.72 265.4M308.29 257.52L308.29 265.4M305.72 257.52L308.29 257.52M307.01 254.37L307.01 257.52M310.85 254.37L310.85 265.4M307.01 254.37L310.85 254.37M313.42 254.56L313.42 265.4M315.98 254.56L315.98 265.4M313.42 254.56L315.98 254.56M308.93 252.5L308.93 254.37M314.7 252.5L314.7 254.56M308.93 252.5L314.7 252.5M318.55 260.63L318.55 265.4M321.11 260.63L321.11 265.4M318.55 260.63L321.11 260.63M323.68 260.9L323.68 265.4M326.24 260.9L326.24 265.4M323.68 260.9L326.24 260.9M324.96 258.59L324.96 260.9M328.8 258.59L328.8 265.4M324.96 258.59L328.8 258.59M319.83 256.79L319.83 260.63M326.88 256.79L326.88 258.59M319.83 256.79L326.88 256.79M331.37 258.82L331.37 265.4M333.93 258.82L333.93 265.4M331.37 258.82L333.93 258.82M323.35 254.83L323.35 256.79M332.65 254.83L332.65 258.82M323.35 254.83L332.65 254.83M336.5 262.8L336.5 265.4M339.06 262.8L339.06 265.4M336.5 262.8L339.06 262.8M337.78 260.4L337.78 262.8M341.63 260.4L341.63 265.4M337.78 260.4L341.63 260.4M344.19 258.74L344.19 265.4M346.76 258.74L346.76 265.4M344.19 258.74L346.76 258.74M339.7 256.74L339.7 260.4M345.47 256.74L345.47 258.74M339.7 256.74L345.47 256.74M349.32 260.64L349.32 265.4M351.88 260.64L351.88 265.4M349.32 260.64L351.88 260.64M350.6 256.53L350.6 260.64M354.45 256.53L354.45 265.4M350.6 256.53L354.45 256.53M342.59 253.93L342.59 256.74M352.53 253.93L352.53 256.53M342.59 253.93L352.53 253.93M328 251L328 254.83M347.56 251L347.56 253.93M328 251L347.56 251M311.82 248.7L311.82 252.5M337.78 248.7L337.78 251M311.82 248.7L337.78 248.7M288.45 244.3L288.45 247.8M324.8 244.3L324.8 248.7M288.45 244.3L324.8 244.3M357.01 258.62L357.01 265.4M359.58 258.62L359.58 265.4M357.01 258.62L359.58 258.62M362.14 256.95L362.14 265.4M364.71 256.95L364.71 265.4M362.14 256.95L364.71 256.95M358.29 255.12L358.29 258.62M363.42 255.12L363.42 256.95M358.29 255.12L363.42 255.12M367.27 261.28L367.27 265.4M369.83 261.28L369.83 265.4M367.27 261.28L369.83 261.28M372.4 261.02L372.4 265.4M374.96 261.02L374.96 265.4M372.4 261.02L374.96 261.02M368.55 258.14L368.55 261.28M373.68 258.14L373.68 261.02M368.55 258.14L373.68 258.14M371.12 255.92L371.12 258.14M377.53 255.92L377.53 265.4M371.12 255.92L377.53 255.92M360.86 253L360.86 255.12M374.32 253L374.32 255.92M360.86 253L374.32 253M367.59 247.4L367.59 253M380.09 247.4L380.09 265.4M367.59 247.4L380.09 247.4M306.63 241.6L306.63 244.3M373.84 241.6L373.84 247.4M306.63 241.6L373.84 241.6M382.66 263.2L382.66 265.4M385.22 263.2L385.22 265.4M382.66 263.2L385.22 263.2M383.94 262.57L383.94 263.2M387.79 262.57L387.79 265.4M383.94 262.57L387.79 262.57M390.35 262.51L390.35 265.4M392.91 262.51L392.91 265.4M390.35 262.51L392.91 262.51M385.86 259.76L385.86 262.57M391.63 259.76L391.63 262.51M385.86 259.76L391.63 259.76M395.48 261.58L395.48 265.4M398.04 261.58L398.04 265.4M395.48 261.58L398.04 261.58M400.61 262.8L400.61 265.4M403.17 262.8L403.17 265.4M400.61 262.8L403.17 262.8M396.76 259.78L396.76 261.58M401.89 259.78L401.89 262.8M396.76 259.78L401.89 259.78M388.75 255.6L388.75 259.76M399.33 255.6L399.33 259.78M388.75 255.6L399.33 255.6M405.74 260.04L405.74 265.4M408.3 260.04L408.3 265.4M405.74 260.04L408.3 260.04M407.02 258.19L407.02 260.04M410.87 258.19L410.87 265.4M407.02 258.19L410.87 258.19M413.43 260.44L413.43 265.4M415.99 260.44L415.99 265.4M413.43 260.44L415.99 260.44M414.71 256.25L414.71 260.44M418.56 256.25L418.56 265.4M414.71 256.25L418.56 256.25M408.94 254L408.94 258.19M416.64 254L416.64 256.25M408.94 254L416.64 254M394.04 251.4L394.04 255.6M412.79 251.4L412.79 254M394.04 251.4L412.79 251.4M421.12 259.94L421.12 265.4M423.69 259.94L423.69 265.4M421.12 259.94L423.69 259.94M422.41 256.7L422.41 259.94M426.25 256.7L426.25 265.4M422.41 256.7L426.25 256.7M428.82 262.8L428.82 265.4M431.38 262.8L431.38 265.4M428.82 262.8L431.38 262.8M433.94 262.8L433.94 265.4M436.51 262.8L436.51 265.4M433.94 262.8L436.51 262.8M430.1 260.91L430.1 262.8M435.23 260.91L435.23 262.8M430.1 260.91L435.23 260.91M439.07 262.8L439.07 265.4M441.64 262.8L441.64 265.4M439.07 262.8L441.64 262.8M440.36 261.19L440.36 262.8M444.2 261.19L444.2 265.4M440.36 261.19L444.2 261.19M432.66 258.6L432.66 260.91M442.28 258.6L442.28 261.19M432.66 258.6L442.28 258.6M446.77 262.8L446.77 265.4M449.33 262.8L449.33 265.4M446.77 262.8L449.33 262.8M448.05 260.98L448.05 262.8M451.9 260.98L451.9 265.4M448.05 260.98L451.9 260.98M454.46 263.2L454.46 265.4M457.02 263.2L457.02 265.4M454.46 263.2L457.02 263.2M455.74 262.8L455.74 263.2M459.59 262.8L459.59 265.4M455.74 262.8L459.59 262.8M462.15 262.8L462.15 265.4M464.72 262.8L464.72 265.4M462.15 262.8L464.72 262.8M457.67 260.51L457.67 262.8M463.44 260.51L463.44 262.8M457.67 260.51L463.44 260.51M449.97 258.68L449.97 260.98M460.55 258.68L460.55 260.51M449.97 258.68L460.55 258.68M437.47 256.7L437.47 258.6M455.26 256.7L455.26 258.68M437.47 256.7L455.26 256.7M424.33 252.5L424.33 256.7M446.37 252.5L446.37 256.7M424.33 252.5L446.37 252.5M403.41 249.8L403.41 251.4M435.35 249.8L435.35 252.5M403.41 249.8L435.35 249.8M340.23 240.4L340.23 241.6M419.38 240.4L419.38 249.8M340.23 240.4L419.38 240.4M238.73 231.1L238.73 239.4M379.81 231.1L379.81 240.4M238.73 231.1L379.81 231.1M187.99 209.2L187.99 223.9M309.27 209.2L309.27 231.1M187.99 209.2L309.27 209.2" stroke="#111" stroke-width="0.85" fill="none" stroke-linecap="square"/>
<polygon points="63.15,478.15 78.3,478.15 81.79,478.15 81.79,479.32 96.94,479.32 96.94,481.65 105.09,481.65 105.09,486.31 113.25,486.31 113.25,494.46 120.24,494.46 120.24,500.29 124.9,500.29 124.9,504.48 143.54,504.48 143.54,510.77 150.53,510.77 150.53,517.76 157.52,517.76 157.52,526.85 179.2,526.85 179.2,526.9 179.2,530 285.6,530 285.6,597.9 229.6,597.9 229.6,578.5 179.2,578.5 179.2,569 178.49,569.02 158.68,569.02 158.68,558.54 158.68,556.21 152.86,556.21 152.86,551.55 150.53,551.55 150.53,544.56 147.03,544.56 147.03,542.23 143.54,542.23 143.54,537.57 142.37,537.57 126.06,537.57 126.06,532.91 124.9,532.91 124.9,529.41 120.24,529.41 120.24,523.59 116.74,523.59 116.74,520.09 112.08,520.09 112.08,515.43 108.59,515.43 108.59,509.61 106.26,509.61 106.26,504.95 101.6,504.95 101.6,502.62 98.1,502.62 98.1,496.79 96.94,496.79 96.94,495.63 93.44,495.63 93.44,490.97 87.62,490.97 87.62,488.64 84.12,488.64 84.12,483.98 81.79,483.98 81.79,480.48 78.3,480.48 78.3,478.85 63.15,478.85" fill="#b1dfe8"/>
<polygon points="63.15,479.32 68.98,479.32 72.47,479.32 72.47,481.65 75.97,481.65 75.97,483.98 78.3,483.98 78.3,487.47 80.63,487.47 80.63,490.97 82.96,490.97 82.96,493.3 85.29,493.3 85.29,497.96 87.62,497.96 87.62,504.95 89.95,504.95 89.95,513.1 92.28,513.1 92.28,521.26 94.61,521.26 94.61,528.25 96.94,528.25 96.94,535.24 99.27,535.24 99.27,544.56 103.93,544.56 103.93,558.54 109.75,558.54 109.75,569.02 121.4,569.02 121.4,574.85 124.9,574.85 124.9,580.67 142.37,580.67 142.37,586.5 172.19,586.5 172.19,631.93 159.85,631.93 159.85,628.43 142.37,628.43 142.37,623.77 124.9,623.77 124.9,619.11 124.9,614.45 121.4,614.45 109.75,614.45 109.75,607.47 109.75,602.81 105.09,602.81 105.09,598.15 102.76,598.15 102.76,591.16 100.43,591.16 100.43,584.17 98.1,584.17 98.1,577.18 95.77,577.18 95.77,570.19 93.44,570.19 93.44,563.2 91.11,563.2 91.11,549.22 88.78,549.22 88.78,539.9 86.45,539.9 86.45,534.07 84.12,534.07 84.12,525.92 81.79,525.92 81.79,520.09 79.46,520.09 79.46,516.6 77.13,516.6 77.13,511.94 74.8,511.94 74.8,507.28 72.47,507.28 72.47,500.29 70.14,500.29 70.14,493.3 67.81,493.3 67.81,489.8 65.48,489.8 63.15,489.8 63.15,480.48" fill="#f7b3b4"/>
<polyline points="63.15,478.85 78.3,478.85 78.3,480.48 81.79,480.48 81.79,482.81 84.12,482.81 84.12,485.14 86.45,485.14 86.45,487.47 95.77,487.47 95.77,489.8 98.1,489.8 98.1,496.79 105.09,496.79 105.09,499.12 107.42,499.12 107.42,504.95 112.08,504.95 112.08,508.44 115.58,508.44 115.58,513.1 119.07,513.1 119.07,515.43 122.57,515.43 122.57,518.93 124.9,518.93 124.9,522.42 142.37,522.42 142.37,525.92 144.7,525.92 144.7,529.41 149.36,529.41 149.36,534.07 152.86,534.07 152.86,537.57 156.35,537.57 156.35,539.9 158.68,539.9 158.68,546.89 161.01,546.89 161.01,551.08 179.65,551.08 179.6,551.08 179.6,558.3 229.6,558.3 229.6,573.4 287,573.4" fill="none" stroke="#1b97b5" stroke-width="1.5" stroke-linejoin="round"/>
<polyline points="63.15,479.79 64.79,479.79 64.79,482.81 67.81,482.81 67.81,486.31 70.14,486.31 70.14,492.13 72.47,492.13 72.47,498.42 77.13,498.42 77.13,502.62 79.46,502.62 79.46,507.28 81.79,507.28 81.79,510.77 84.12,510.77 84.12,516.6 86.45,516.6 86.45,523.59 88.78,523.59 88.78,535.24 91.11,535.24 91.11,549.22 93.44,549.22 93.44,556.21 95.77,556.21 95.77,562.03 98.1,562.03 98.1,567.86 100.43,567.86 100.43,574.85 102.76,574.85 102.76,581.84 105.09,581.84 105.09,589.99 109.75,589.99 109.75,598.61 121.4,598.61 121.4,603.97 124.9,603.97 124.9,609.79 142.37,609.79 142.37,617.48 159.85,617.48 159.85,624.94 172.19,624.94 172.19,631.93" fill="none" stroke="#e5191c" stroke-width="1.5" stroke-linejoin="round"/>
<line x1="85.7" y1="487.5" x2="89.5" y2="487.5" stroke="#1b97b5" stroke-width="1"/>
<line x1="87.6" y1="485.6" x2="87.6" y2="489.4" stroke="#1b97b5" stroke-width="1"/>
<line x1="88.1" y1="487.5" x2="91.9" y2="487.5" stroke="#1b97b5" stroke-width="1"/>
<line x1="90" y1="485.6" x2="90" y2="489.4" stroke="#1b97b5" stroke-width="1"/>
<line x1="90.4" y1="487.5" x2="94.2" y2="487.5" stroke="#1b97b5" stroke-width="1"/>
<line x1="92.3" y1="485.6" x2="92.3" y2="489.4" stroke="#1b97b5" stroke-width="1"/>
<line x1="99.7" y1="496.8" x2="103.5" y2="496.8" stroke="#1b97b5" stroke-width="1"/>
<line x1="101.6" y1="494.9" x2="101.6" y2="498.7" stroke="#1b97b5" stroke-width="1"/>
<line x1="102" y1="496.8" x2="105.8" y2="496.8" stroke="#1b97b5" stroke-width="1"/>
<line x1="103.9" y1="494.9" x2="103.9" y2="498.7" stroke="#1b97b5" stroke-width="1"/>
<line x1="107.9" y1="505" x2="111.7" y2="505" stroke="#1b97b5" stroke-width="1"/>
<line x1="109.8" y1="503.1" x2="109.8" y2="506.9" stroke="#1b97b5" stroke-width="1"/>
<line x1="110.1" y1="507.5" x2="113.9" y2="507.5" stroke="#1b97b5" stroke-width="1"/>
<line x1="112" y1="505.6" x2="112" y2="509.4" stroke="#1b97b5" stroke-width="1"/>
<line x1="120.7" y1="518" x2="124.5" y2="518" stroke="#1b97b5" stroke-width="1"/>
<line x1="122.6" y1="516.1" x2="122.6" y2="519.9" stroke="#1b97b5" stroke-width="1"/>
<line x1="123" y1="520.5" x2="126.8" y2="520.5" stroke="#1b97b5" stroke-width="1"/>
<line x1="124.9" y1="518.6" x2="124.9" y2="522.4" stroke="#1b97b5" stroke-width="1"/>
<line x1="128.8" y1="522.4" x2="132.6" y2="522.4" stroke="#1b97b5" stroke-width="1"/>
<line x1="130.7" y1="520.5" x2="130.7" y2="524.3" stroke="#1b97b5" stroke-width="1"/>
<line x1="133.5" y1="522.4" x2="137.3" y2="522.4" stroke="#1b97b5" stroke-width="1"/>
<line x1="135.4" y1="520.5" x2="135.4" y2="524.3" stroke="#1b97b5" stroke-width="1"/>
<line x1="140.5" y1="522.4" x2="144.3" y2="522.4" stroke="#1b97b5" stroke-width="1"/>
<line x1="142.4" y1="520.5" x2="142.4" y2="524.3" stroke="#1b97b5" stroke-width="1"/>
<line x1="142.8" y1="528" x2="146.6" y2="528" stroke="#1b97b5" stroke-width="1"/>
<line x1="144.7" y1="526.1" x2="144.7" y2="529.9" stroke="#1b97b5" stroke-width="1"/>
<line x1="151" y1="536.4" x2="154.8" y2="536.4" stroke="#1b97b5" stroke-width="1"/>
<line x1="152.9" y1="534.5" x2="152.9" y2="538.3" stroke="#1b97b5" stroke-width="1"/>
<line x1="159.1" y1="551.1" x2="162.9" y2="551.1" stroke="#1b97b5" stroke-width="1"/>
<line x1="161" y1="549.2" x2="161" y2="553" stroke="#1b97b5" stroke-width="1"/>
<line x1="161.4" y1="551.1" x2="165.2" y2="551.1" stroke="#1b97b5" stroke-width="1"/>
<line x1="163.3" y1="549.2" x2="163.3" y2="553" stroke="#1b97b5" stroke-width="1"/>
<line x1="163.7" y1="551.1" x2="167.5" y2="551.1" stroke="#1b97b5" stroke-width="1"/>
<line x1="165.6" y1="549.2" x2="165.6" y2="553" stroke="#1b97b5" stroke-width="1"/>
<line x1="166.1" y1="551.1" x2="169.9" y2="551.1" stroke="#1b97b5" stroke-width="1"/>
<line x1="168" y1="549.2" x2="168" y2="553" stroke="#1b97b5" stroke-width="1"/>
<line x1="168.4" y1="551.1" x2="172.2" y2="551.1" stroke="#1b97b5" stroke-width="1"/>
<line x1="170.3" y1="549.2" x2="170.3" y2="553" stroke="#1b97b5" stroke-width="1"/>
<line x1="170.7" y1="551.1" x2="174.5" y2="551.1" stroke="#1b97b5" stroke-width="1"/>
<line x1="172.6" y1="549.2" x2="172.6" y2="553" stroke="#1b97b5" stroke-width="1"/>
<line x1="173" y1="551.1" x2="176.8" y2="551.1" stroke="#1b97b5" stroke-width="1"/>
<line x1="174.9" y1="549.2" x2="174.9" y2="553" stroke="#1b97b5" stroke-width="1"/>
<line x1="175.4" y1="551.1" x2="179.2" y2="551.1" stroke="#1b97b5" stroke-width="1"/>
<line x1="177.3" y1="549.2" x2="177.3" y2="553" stroke="#1b97b5" stroke-width="1"/>
<line x1="188.4" y1="558.3" x2="192.2" y2="558.3" stroke="#1b97b5" stroke-width="1"/>
<line x1="190.3" y1="556.4" x2="190.3" y2="560.2" stroke="#1b97b5" stroke-width="1"/>
<line x1="193.7" y1="558.3" x2="197.5" y2="558.3" stroke="#1b97b5" stroke-width="1"/>
<line x1="195.6" y1="556.4" x2="195.6" y2="560.2" stroke="#1b97b5" stroke-width="1"/>
<line x1="196.4" y1="558.3" x2="200.2" y2="558.3" stroke="#1b97b5" stroke-width="1"/>
<line x1="198.3" y1="556.4" x2="198.3" y2="560.2" stroke="#1b97b5" stroke-width="1"/>
<line x1="204.6" y1="558.3" x2="208.4" y2="558.3" stroke="#1b97b5" stroke-width="1"/>
<line x1="206.5" y1="556.4" x2="206.5" y2="560.2" stroke="#1b97b5" stroke-width="1"/>
<line x1="232" y1="573.4" x2="235.8" y2="573.4" stroke="#1b97b5" stroke-width="1"/>
<line x1="233.9" y1="571.5" x2="233.9" y2="575.3" stroke="#1b97b5" stroke-width="1"/>
<line x1="250.6" y1="573.4" x2="254.4" y2="573.4" stroke="#1b97b5" stroke-width="1"/>
<line x1="252.5" y1="571.5" x2="252.5" y2="575.3" stroke="#1b97b5" stroke-width="1"/>
<line x1="271.7" y1="573.4" x2="275.5" y2="573.4" stroke="#1b97b5" stroke-width="1"/>
<line x1="273.6" y1="571.5" x2="273.6" y2="575.3" stroke="#1b97b5" stroke-width="1"/>
<line x1="284.4" y1="573.4" x2="288.2" y2="573.4" stroke="#1b97b5" stroke-width="1"/>
<line x1="286.3" y1="571.5" x2="286.3" y2="575.3" stroke="#1b97b5" stroke-width="1"/>
<line x1="78.7" y1="510.8" x2="82.5" y2="510.8" stroke="#e5191c" stroke-width="1"/>
<line x1="80.6" y1="508.9" x2="80.6" y2="512.7" stroke="#e5191c" stroke-width="1"/>
<line x1="98.5" y1="573.7" x2="102.3" y2="573.7" stroke="#e5191c" stroke-width="1"/>
<line x1="100.4" y1="571.8" x2="100.4" y2="575.6" stroke="#e5191c" stroke-width="1"/>
<line x1="117.2" y1="598.6" x2="121" y2="598.6" stroke="#e5191c" stroke-width="1"/>
<line x1="119.1" y1="596.7" x2="119.1" y2="600.5" stroke="#e5191c" stroke-width="1"/>
<line x1="130" y1="609.8" x2="133.8" y2="609.8" stroke="#e5191c" stroke-width="1"/>
<line x1="131.9" y1="607.9" x2="131.9" y2="611.7" stroke="#e5191c" stroke-width="1"/>
<line x1="51" y1="470.8" x2="51" y2="640.8" stroke="#111" stroke-width="1.1"/>
<line x1="50.5" y1="640.3" x2="309.4" y2="640.3" stroke="#111" stroke-width="1.1"/>
<line x1="49" y1="632.6" x2="51" y2="632.6" stroke="#111" stroke-width="1"/>
<text x="46.9" y="635.61" font-size="8.4" text-anchor="end" fill="#222">0.00</text>
<line x1="49" y1="594.1" x2="51" y2="594.1" stroke="#111" stroke-width="1"/>
<text x="46.9" y="597.11" font-size="8.4" text-anchor="end" fill="#222">0.25</text>
<line x1="49" y1="555.6" x2="51" y2="555.6" stroke="#111" stroke-width="1"/>
<text x="46.9" y="558.61" font-size="8.4" text-anchor="end" fill="#222">0.50</text>
<line x1="49" y1="517.1" x2="51" y2="517.1" stroke="#111" stroke-width="1"/>
<text x="46.9" y="520.11" font-size="8.4" text-anchor="end" fill="#222">0.75</text>
<line x1="49" y1="478.6" x2="51" y2="478.6" stroke="#111" stroke-width="1"/>
<text x="46.9" y="481.61" font-size="8.4" text-anchor="end" fill="#222">1.00</text>
<line x1="63" y1="640.3" x2="63" y2="642.4" stroke="#111" stroke-width="1"/>
<text x="63" y="650.91" font-size="8.4" text-anchor="middle" fill="#222">0</text>
<line x1="82.61" y1="640.3" x2="82.61" y2="642.4" stroke="#111" stroke-width="1"/>
<text x="82.61" y="650.91" font-size="8.4" text-anchor="middle" fill="#222">5</text>
<line x1="102.22" y1="640.3" x2="102.22" y2="642.4" stroke="#111" stroke-width="1"/>
<text x="102.22" y="650.91" font-size="8.4" text-anchor="middle" fill="#222">10</text>
<line x1="121.83" y1="640.3" x2="121.83" y2="642.4" stroke="#111" stroke-width="1"/>
<text x="121.83" y="650.91" font-size="8.4" text-anchor="middle" fill="#222">15</text>
<line x1="141.44" y1="640.3" x2="141.44" y2="642.4" stroke="#111" stroke-width="1"/>
<text x="141.44" y="650.91" font-size="8.4" text-anchor="middle" fill="#222">20</text>
<line x1="161.05" y1="640.3" x2="161.05" y2="642.4" stroke="#111" stroke-width="1"/>
<text x="161.05" y="650.91" font-size="8.4" text-anchor="middle" fill="#222">25</text>
<line x1="180.66" y1="640.3" x2="180.66" y2="642.4" stroke="#111" stroke-width="1"/>
<text x="180.66" y="650.91" font-size="8.4" text-anchor="middle" fill="#222">30</text>
<line x1="200.27" y1="640.3" x2="200.27" y2="642.4" stroke="#111" stroke-width="1"/>
<text x="200.27" y="650.91" font-size="8.4" text-anchor="middle" fill="#222">35</text>
<line x1="219.88" y1="640.3" x2="219.88" y2="642.4" stroke="#111" stroke-width="1"/>
<text x="219.88" y="650.91" font-size="8.4" text-anchor="middle" fill="#222">40</text>
<line x1="239.49" y1="640.3" x2="239.49" y2="642.4" stroke="#111" stroke-width="1"/>
<text x="239.49" y="650.91" font-size="8.4" text-anchor="middle" fill="#222">45</text>
<line x1="259.1" y1="640.3" x2="259.1" y2="642.4" stroke="#111" stroke-width="1"/>
<text x="259.1" y="650.91" font-size="8.4" text-anchor="middle" fill="#222">50</text>
<line x1="278.71" y1="640.3" x2="278.71" y2="642.4" stroke="#111" stroke-width="1"/>
<text x="278.71" y="650.91" font-size="8.4" text-anchor="middle" fill="#222">55</text>
<line x1="298.32" y1="640.3" x2="298.32" y2="642.4" stroke="#111" stroke-width="1"/>
<text x="298.32" y="650.91" font-size="8.4" text-anchor="middle" fill="#222">60</text>
<text x="185.6" y="663.33" font-size="8.45" text-anchor="middle" fill="#111" font-weight="bold">Time (Months)</text>
<text x="19.9" y="557.53" font-size="9.85" text-anchor="middle" fill="#111" font-weight="bold" transform="rotate(-90 19.9 554)">Overall Survival</text>
<text x="248.9" y="472.24" font-size="8.5" text-anchor="middle" fill="#111" font-weight="bold">mOS (95%CI), months</text>
<line x1="183.1" y1="475.2" x2="311.2" y2="475.2" stroke="#8c8c8c" stroke-width="1.9"/>
<line x1="185.3" y1="486.1" x2="195.8" y2="486.1" stroke="#e5191c" stroke-width="1.3"/>
<line x1="190.5" y1="483.3" x2="190.5" y2="488.9" stroke="#e5191c" stroke-width="1"/>
<line x1="185.3" y1="502.1" x2="195.8" y2="502.1" stroke="#1b97b5" stroke-width="1.3"/>
<line x1="190.5" y1="499.3" x2="190.5" y2="504.9" stroke="#1b97b5" stroke-width="1"/>
<text x="201.7" y="489.14" font-size="8.5" text-anchor="start" fill="#111" font-weight="bold">High-risk</text>
<text x="242.9" y="489.14" font-size="8.5" text-anchor="start" fill="#222">8.17 (6.63-11.00)</text>
<text x="201.7" y="505.14" font-size="8.5" text-anchor="start" fill="#111" font-weight="bold">Low-risk</text>
<text x="242.9" y="505.14" font-size="8.5" text-anchor="start" fill="#222">29.70 (23.03-NR)</text>
<text x="194.7" y="518.94" font-size="8.5" text-anchor="start" fill="#222">HR (95%CI): 5.95 (3.50-10.12)</text>
<text x="194.7" y="529.24" font-size="8.5" text-anchor="start" fill="#222">Log-rank P&lt;0.001</text>
<line x1="53.7" y1="671" x2="53.7" y2="700.6" stroke="#111" stroke-width="1.1"/>
<line x1="53.2" y1="700.6" x2="307.9" y2="700.6" stroke="#111" stroke-width="1.1"/>
<line x1="52" y1="679.2" x2="53.7" y2="679.2" stroke="#111" stroke-width="1"/>
<line x1="52" y1="692.7" x2="53.7" y2="692.7" stroke="#111" stroke-width="1"/>
<text x="49.2" y="682.24" font-size="8.5" text-anchor="end" fill="#e5191c" font-weight="bold">High-risk</text>
<text x="49.2" y="695.74" font-size="8.5" text-anchor="end" fill="#1b9cc0" font-weight="bold">Low-risk</text>
<text x="64.8" y="682.24" font-size="8.5" text-anchor="middle" fill="#222">40</text>
<text x="64.8" y="695.74" font-size="8.5" text-anchor="middle" fill="#222">78</text>
<line x1="64.8" y1="700.6" x2="64.8" y2="702.7" stroke="#111" stroke-width="1"/>
<text x="64.8" y="711.01" font-size="8.4" text-anchor="middle" fill="#222">0</text>
<text x="84.07" y="682.24" font-size="8.5" text-anchor="middle" fill="#222">29</text>
<text x="84.07" y="695.74" font-size="8.5" text-anchor="middle" fill="#222">76</text>
<line x1="84.07" y1="700.6" x2="84.07" y2="702.7" stroke="#111" stroke-width="1"/>
<text x="84.07" y="711.01" font-size="8.4" text-anchor="middle" fill="#222">5</text>
<text x="103.34" y="682.24" font-size="8.5" text-anchor="middle" fill="#222">12</text>
<text x="103.34" y="695.74" font-size="8.5" text-anchor="middle" fill="#222">59</text>
<line x1="103.34" y1="700.6" x2="103.34" y2="702.7" stroke="#111" stroke-width="1"/>
<text x="103.34" y="711.01" font-size="8.4" text-anchor="middle" fill="#222">10</text>
<text x="122.61" y="682.24" font-size="8.5" text-anchor="middle" fill="#222">6</text>
<text x="122.61" y="695.74" font-size="8.5" text-anchor="middle" fill="#222">45</text>
<line x1="122.61" y1="700.6" x2="122.61" y2="702.7" stroke="#111" stroke-width="1"/>
<text x="122.61" y="711.01" font-size="8.4" text-anchor="middle" fill="#222">15</text>
<text x="141.88" y="682.24" font-size="8.5" text-anchor="middle" fill="#222">3</text>
<text x="141.88" y="695.74" font-size="8.5" text-anchor="middle" fill="#222">36</text>
<line x1="141.88" y1="700.6" x2="141.88" y2="702.7" stroke="#111" stroke-width="1"/>
<text x="141.88" y="711.01" font-size="8.4" text-anchor="middle" fill="#222">20</text>
<text x="161.15" y="682.24" font-size="8.5" text-anchor="middle" fill="#222">1</text>
<text x="161.15" y="695.74" font-size="8.5" text-anchor="middle" fill="#222">19</text>
<line x1="161.15" y1="700.6" x2="161.15" y2="702.7" stroke="#111" stroke-width="1"/>
<text x="161.15" y="711.01" font-size="8.4" text-anchor="middle" fill="#222">25</text>
<text x="180.42" y="682.24" font-size="8.5" text-anchor="middle" fill="#222">0</text>
<text x="180.42" y="695.74" font-size="8.5" text-anchor="middle" fill="#222">10</text>
<line x1="180.42" y1="700.6" x2="180.42" y2="702.7" stroke="#111" stroke-width="1"/>
<text x="180.42" y="711.01" font-size="8.4" text-anchor="middle" fill="#222">30</text>
<text x="199.69" y="682.24" font-size="8.5" text-anchor="middle" fill="#222">0</text>
<text x="199.69" y="695.74" font-size="8.5" text-anchor="middle" fill="#222">7</text>
<line x1="199.69" y1="700.6" x2="199.69" y2="702.7" stroke="#111" stroke-width="1"/>
<text x="199.69" y="711.01" font-size="8.4" text-anchor="middle" fill="#222">35</text>
<text x="218.96" y="682.24" font-size="8.5" text-anchor="middle" fill="#222">0</text>
<text x="218.96" y="695.74" font-size="8.5" text-anchor="middle" fill="#222">5</text>
<line x1="218.96" y1="700.6" x2="218.96" y2="702.7" stroke="#111" stroke-width="1"/>
<text x="218.96" y="711.01" font-size="8.4" text-anchor="middle" fill="#222">40</text>
<text x="238.23" y="682.24" font-size="8.5" text-anchor="middle" fill="#222">0</text>
<text x="238.23" y="695.74" font-size="8.5" text-anchor="middle" fill="#222">3</text>
<line x1="238.23" y1="700.6" x2="238.23" y2="702.7" stroke="#111" stroke-width="1"/>
<text x="238.23" y="711.01" font-size="8.4" text-anchor="middle" fill="#222">45</text>
<text x="257.5" y="682.24" font-size="8.5" text-anchor="middle" fill="#222">0</text>
<text x="257.5" y="695.74" font-size="8.5" text-anchor="middle" fill="#222">2</text>
<line x1="257.5" y1="700.6" x2="257.5" y2="702.7" stroke="#111" stroke-width="1"/>
<text x="257.5" y="711.01" font-size="8.4" text-anchor="middle" fill="#222">50</text>
<text x="276.77" y="682.24" font-size="8.5" text-anchor="middle" fill="#222">0</text>
<text x="276.77" y="695.74" font-size="8.5" text-anchor="middle" fill="#222">1</text>
<line x1="276.77" y1="700.6" x2="276.77" y2="702.7" stroke="#111" stroke-width="1"/>
<text x="276.77" y="711.01" font-size="8.4" text-anchor="middle" fill="#222">55</text>
<text x="296.04" y="682.24" font-size="8.5" text-anchor="middle" fill="#222">0</text>
<text x="296.04" y="695.74" font-size="8.5" text-anchor="middle" fill="#222">0</text>
<line x1="296.04" y1="700.6" x2="296.04" y2="702.7" stroke="#111" stroke-width="1"/>
<text x="296.04" y="711.01" font-size="8.4" text-anchor="middle" fill="#222">60</text>
<text x="185.6" y="724.93" font-size="8.45" text-anchor="middle" fill="#111" font-weight="bold">Time (Months)</text>
<polygon points="389.11,475.07 400.38,475.07 403.98,475.07 403.98,478.19 407.57,478.19 407.57,481.78 409.97,481.78 409.97,484.18 412.37,484.18 412.37,486.58 415.96,486.58 415.96,491.37 418.36,491.37 418.36,496.17 420.76,496.17 420.76,500.96 423.16,500.96 423.16,506.96 427.95,506.96 427.95,509.35 431.55,509.35 431.55,512.95 437.54,512.95 437.54,517.75 442.34,517.75 442.34,522.54 447.13,522.54 447.13,529.73 451.93,529.73 451.93,534.53 456.72,534.53 456.72,538.12 467.51,538.12 467.5,544.5 488.7,544.5 488.7,548 528.4,548 528.4,551 557.7,551 557.7,554 643.8,554 643.8,607.4 557.7,607.4 557.7,595.7 528.4,595.7 528.4,587 488.7,587 488.7,582.5 467.5,582.5 467.51,576.48 467.51,574.09 456.72,574.09 456.72,570.49 451.93,570.49 451.93,565.7 447.13,565.7 447.13,560.9 443.53,560.9 443.53,556.11 439.94,556.11 439.94,547.71 435.14,547.71 435.14,541.72 430.35,541.72 430.35,536.93 426.75,536.93 426.75,532.13 423.16,532.13 423.16,526.14 420.76,526.14 420.76,520.14 418.36,520.14 418.36,512.95 415.96,512.95 415.96,505.76 412.37,505.76 412.37,498.57 408.77,498.57 408.77,491.37 405.17,491.37 405.17,484.18 401.58,484.18 401.58,476.99 399.18,476.99 399.18,475.79 389.11,475.79" fill="#b1dfe8"/>
<polygon points="389.59,475.79 394.39,475.79 394.39,476.99 397.98,476.99 397.98,479.39 399.18,479.39 399.18,484.18 401.58,484.18 401.58,491.37 403.98,491.37 403.98,498.57 406.37,498.57 406.37,508.16 408.77,508.16 408.77,516.55 412.37,516.55 412.37,522.54 415.96,522.54 415.96,526.14 419.56,526.14 419.56,530.93 421.96,530.93 421.96,541.72 424.35,541.72 424.35,551.31 425.55,551.31 425.55,565.7 429.15,565.7 429.15,572.89 436.34,572.89 436.34,577.68 438.74,577.68 438.74,582.48 445.93,582.48 451.93,582.48 451.93,587.27 461.52,587.27 462.71,587.27 462.71,592.07 472.3,592.07 472.3,595.66 472.3,630.43 465.11,630.43 465.11,628.03 461.52,628.03 461.52,625.63 451.93,625.63 451.93,623.24 445.93,623.24 445.93,620.84 439.94,620.84 439.94,618.44 436.34,618.44 436.34,616.04 429.15,616.04 429.15,611.25 425.55,611.25 425.55,604.06 423.16,604.06 423.16,594.47 420.76,594.47 420.76,584.88 418.36,584.88 418.36,575.29 415.96,575.29 415.96,565.7 413.57,565.7 413.57,558.5 411.17,558.5 411.17,546.52 408.77,546.52 408.77,536.93 406.37,536.93 406.37,524.94 403.98,524.94 403.98,512.95 401.58,512.95 401.58,503.36 399.18,503.36 399.18,496.17 396.78,496.17 396.78,488.98 394.39,488.98 394.39,484.18 391.99,484.18 391.99,479.39 389.59,479.39" fill="#f7b3b4"/>
<polyline points="389.11,475.79 399.18,475.79 400.38,475.79 400.38,478.19 401.58,478.19 401.58,480.58 402.78,480.58 402.78,482.98 403.98,482.98 403.98,485.38 405.17,485.38 405.17,487.78 406.37,487.78 406.37,490.17 407.57,490.17 407.57,492.57 409.97,492.57 409.97,494.97 411.17,494.97 411.17,498.57 413.57,498.57 413.57,500.96 415.96,500.96 415.96,504.56 418.36,504.56 418.36,506.96 419.56,506.96 419.56,510.55 420.76,510.55 420.76,515.35 423.16,515.35 423.16,520.14 425.55,520.14 425.55,522.54 426.75,522.54 426.75,526.14 429.15,526.14 429.15,528.53 431.55,528.53 431.55,532.13 435.14,532.13 435.14,535.73 437.54,535.73 437.54,539.32 441.14,539.32 441.14,541.72 443.53,541.72 443.53,546.52 445.93,546.52 445.93,550.11 448.33,550.11 448.33,553.71 450.73,553.71 450.73,557.3 454.32,557.3 454.32,559.7 456.72,559.7 456.72,561.38 465.11,561.38 466.31,561.38 466.31,563.3 468.71,563.3 468.71,568.09 489.4,568.09 489.4,567.9 489.4,571.6 528.4,571.6 528.4,579.1 557.7,579.1 557.7,590 643.8,590" fill="none" stroke="#1b97b5" stroke-width="1.5" stroke-linejoin="round"/>
<polyline points="389.59,476.51 389.59,478.91 391.99,478.91 391.99,481.78 394.39,481.78 394.39,485.38 396.3,485.38 396.3,488.98 397.26,488.98 397.26,492.57 397.98,492.57 397.98,496.17 399.18,496.17 399.18,500.96 400.38,500.96 400.38,505.76 401.58,505.76 401.58,510.55 402.78,510.55 402.78,515.35 403.98,515.35 403.98,522.54 405.17,522.54 405.17,529.73 406.37,529.73 406.37,534.53 407.57,534.53 407.57,540.52 408.77,540.52 408.77,546.52 409.97,546.52 409.97,550.11 411.17,550.11 411.17,553.71 413.57,553.71 414.76,553.71 414.76,558.5 415.96,558.5 415.96,562.1 418.36,562.1 419.56,562.1 419.56,568.09 420.76,568.09 420.76,575.29 421.96,575.29 421.96,582.48 423.16,582.48 423.16,589.67 424.35,589.67 424.35,595.66 426.75,595.66 426.75,599.26 429.15,599.26 429.15,604.06 436.34,604.06 436.34,608.85 445.93,608.85 445.93,614.84 461.52,614.84 461.52,620.84 465.11,620.84 465.11,626.83 474.7,626.83" fill="none" stroke="#e5191c" stroke-width="1.5" stroke-linejoin="round"/>
<line x1="387.7" y1="475.8" x2="391.5" y2="475.8" stroke="#1b97b5" stroke-width="1"/>
<line x1="389.6" y1="473.9" x2="389.6" y2="477.7" stroke="#1b97b5" stroke-width="1"/>
<line x1="397.3" y1="475.8" x2="401.1" y2="475.8" stroke="#1b97b5" stroke-width="1"/>
<line x1="399.2" y1="473.9" x2="399.2" y2="477.7" stroke="#1b97b5" stroke-width="1"/>
<line x1="411.7" y1="501" x2="415.5" y2="501" stroke="#1b97b5" stroke-width="1"/>
<line x1="413.6" y1="499.1" x2="413.6" y2="502.9" stroke="#1b97b5" stroke-width="1"/>
<line x1="416.5" y1="507" x2="420.3" y2="507" stroke="#1b97b5" stroke-width="1"/>
<line x1="418.4" y1="505.1" x2="418.4" y2="508.9" stroke="#1b97b5" stroke-width="1"/>
<line x1="418.9" y1="514.1" x2="422.7" y2="514.1" stroke="#1b97b5" stroke-width="1"/>
<line x1="420.8" y1="512.2" x2="420.8" y2="516" stroke="#1b97b5" stroke-width="1"/>
<line x1="421.3" y1="521.3" x2="425.1" y2="521.3" stroke="#1b97b5" stroke-width="1"/>
<line x1="423.2" y1="519.4" x2="423.2" y2="523.2" stroke="#1b97b5" stroke-width="1"/>
<line x1="423.7" y1="523.7" x2="427.5" y2="523.7" stroke="#1b97b5" stroke-width="1"/>
<line x1="425.6" y1="521.8" x2="425.6" y2="525.6" stroke="#1b97b5" stroke-width="1"/>
<line x1="442.8" y1="547.7" x2="446.6" y2="547.7" stroke="#1b97b5" stroke-width="1"/>
<line x1="444.7" y1="545.8" x2="444.7" y2="549.6" stroke="#1b97b5" stroke-width="1"/>
<line x1="444" y1="550.1" x2="447.8" y2="550.1" stroke="#1b97b5" stroke-width="1"/>
<line x1="445.9" y1="548.2" x2="445.9" y2="552" stroke="#1b97b5" stroke-width="1"/>
<line x1="450" y1="557.3" x2="453.8" y2="557.3" stroke="#1b97b5" stroke-width="1"/>
<line x1="451.9" y1="555.4" x2="451.9" y2="559.2" stroke="#1b97b5" stroke-width="1"/>
<line x1="463.2" y1="561.4" x2="467" y2="561.4" stroke="#1b97b5" stroke-width="1"/>
<line x1="465.1" y1="559.5" x2="465.1" y2="563.3" stroke="#1b97b5" stroke-width="1"/>
<line x1="474" y1="568.1" x2="477.8" y2="568.1" stroke="#1b97b5" stroke-width="1"/>
<line x1="475.9" y1="566.2" x2="475.9" y2="570" stroke="#1b97b5" stroke-width="1"/>
<line x1="483.6" y1="567.9" x2="487.4" y2="567.9" stroke="#1b97b5" stroke-width="1"/>
<line x1="485.5" y1="566" x2="485.5" y2="569.8" stroke="#1b97b5" stroke-width="1"/>
<line x1="487" y1="567.9" x2="490.8" y2="567.9" stroke="#1b97b5" stroke-width="1"/>
<line x1="488.9" y1="566" x2="488.9" y2="569.8" stroke="#1b97b5" stroke-width="1"/>
<line x1="495.7" y1="571.6" x2="499.5" y2="571.6" stroke="#1b97b5" stroke-width="1"/>
<line x1="497.6" y1="569.7" x2="497.6" y2="573.5" stroke="#1b97b5" stroke-width="1"/>
<line x1="505.6" y1="571.6" x2="509.4" y2="571.6" stroke="#1b97b5" stroke-width="1"/>
<line x1="507.5" y1="569.7" x2="507.5" y2="573.5" stroke="#1b97b5" stroke-width="1"/>
<line x1="507.2" y1="571.6" x2="511" y2="571.6" stroke="#1b97b5" stroke-width="1"/>
<line x1="509.1" y1="569.7" x2="509.1" y2="573.5" stroke="#1b97b5" stroke-width="1"/>
<line x1="513.8" y1="571.6" x2="517.6" y2="571.6" stroke="#1b97b5" stroke-width="1"/>
<line x1="515.7" y1="569.7" x2="515.7" y2="573.5" stroke="#1b97b5" stroke-width="1"/>
<line x1="515.6" y1="571.6" x2="519.4" y2="571.6" stroke="#1b97b5" stroke-width="1"/>
<line x1="517.5" y1="569.7" x2="517.5" y2="573.5" stroke="#1b97b5" stroke-width="1"/>
<line x1="525.8" y1="571.6" x2="529.6" y2="571.6" stroke="#1b97b5" stroke-width="1"/>
<line x1="527.7" y1="569.7" x2="527.7" y2="573.5" stroke="#1b97b5" stroke-width="1"/>
<line x1="536.4" y1="579.1" x2="540.2" y2="579.1" stroke="#1b97b5" stroke-width="1"/>
<line x1="538.3" y1="577.2" x2="538.3" y2="581" stroke="#1b97b5" stroke-width="1"/>
<line x1="548.3" y1="579.1" x2="552.1" y2="579.1" stroke="#1b97b5" stroke-width="1"/>
<line x1="550.2" y1="577.2" x2="550.2" y2="581" stroke="#1b97b5" stroke-width="1"/>
<line x1="561.6" y1="590" x2="565.4" y2="590" stroke="#1b97b5" stroke-width="1"/>
<line x1="563.5" y1="588.1" x2="563.5" y2="591.9" stroke="#1b97b5" stroke-width="1"/>
<line x1="594.9" y1="590" x2="598.7" y2="590" stroke="#1b97b5" stroke-width="1"/>
<line x1="596.8" y1="588.1" x2="596.8" y2="591.9" stroke="#1b97b5" stroke-width="1"/>
<line x1="616.5" y1="590" x2="620.3" y2="590" stroke="#1b97b5" stroke-width="1"/>
<line x1="618.4" y1="588.1" x2="618.4" y2="591.9" stroke="#1b97b5" stroke-width="1"/>
<line x1="396.1" y1="492.6" x2="399.9" y2="492.6" stroke="#e5191c" stroke-width="1"/>
<line x1="398" y1="490.7" x2="398" y2="494.5" stroke="#e5191c" stroke-width="1"/>
<line x1="427.2" y1="599.3" x2="431" y2="599.3" stroke="#e5191c" stroke-width="1"/>
<line x1="429.1" y1="597.4" x2="429.1" y2="601.2" stroke="#e5191c" stroke-width="1"/>
<line x1="434.4" y1="608.8" x2="438.2" y2="608.8" stroke="#e5191c" stroke-width="1"/>
<line x1="436.3" y1="606.9" x2="436.3" y2="610.7" stroke="#e5191c" stroke-width="1"/>
<line x1="472.8" y1="626.8" x2="476.6" y2="626.8" stroke="#e5191c" stroke-width="1"/>
<line x1="474.7" y1="624.9" x2="474.7" y2="628.7" stroke="#e5191c" stroke-width="1"/>
<line x1="377.2" y1="469.2" x2="377.2" y2="640.4" stroke="#111" stroke-width="1.1"/>
<line x1="376.7" y1="639.9" x2="638.2" y2="639.9" stroke="#111" stroke-width="1.1"/>
<line x1="375.2" y1="632.4" x2="377.2" y2="632.4" stroke="#111" stroke-width="1"/>
<text x="373" y="635.41" font-size="8.4" text-anchor="end" fill="#222">0.00</text>
<line x1="375.2" y1="593.42" x2="377.2" y2="593.42" stroke="#111" stroke-width="1"/>
<text x="373" y="596.43" font-size="8.4" text-anchor="end" fill="#222">0.25</text>
<line x1="375.2" y1="554.45" x2="377.2" y2="554.45" stroke="#111" stroke-width="1"/>
<text x="373" y="557.46" font-size="8.4" text-anchor="end" fill="#222">0.50</text>
<line x1="375.2" y1="515.47" x2="377.2" y2="515.47" stroke="#111" stroke-width="1"/>
<text x="373" y="518.48" font-size="8.4" text-anchor="end" fill="#222">0.75</text>
<line x1="375.2" y1="476.5" x2="377.2" y2="476.5" stroke="#111" stroke-width="1"/>
<text x="373" y="479.51" font-size="8.4" text-anchor="end" fill="#222">1.00</text>
<line x1="389.7" y1="639.9" x2="389.7" y2="642" stroke="#111" stroke-width="1"/>
<text x="389.7" y="650.41" font-size="8.4" text-anchor="middle" fill="#222">0</text>
<line x1="413.37" y1="639.9" x2="413.37" y2="642" stroke="#111" stroke-width="1"/>
<text x="413.37" y="650.41" font-size="8.4" text-anchor="middle" fill="#222">5</text>
<line x1="437.03" y1="639.9" x2="437.03" y2="642" stroke="#111" stroke-width="1"/>
<text x="437.03" y="650.41" font-size="8.4" text-anchor="middle" fill="#222">10</text>
<line x1="460.69" y1="639.9" x2="460.69" y2="642" stroke="#111" stroke-width="1"/>
<text x="460.69" y="650.41" font-size="8.4" text-anchor="middle" fill="#222">15</text>
<line x1="484.36" y1="639.9" x2="484.36" y2="642" stroke="#111" stroke-width="1"/>
<text x="484.36" y="650.41" font-size="8.4" text-anchor="middle" fill="#222">20</text>
<line x1="508.02" y1="639.9" x2="508.02" y2="642" stroke="#111" stroke-width="1"/>
<text x="508.02" y="650.41" font-size="8.4" text-anchor="middle" fill="#222">25</text>
<line x1="531.69" y1="639.9" x2="531.69" y2="642" stroke="#111" stroke-width="1"/>
<text x="531.69" y="650.41" font-size="8.4" text-anchor="middle" fill="#222">30</text>
<line x1="555.36" y1="639.9" x2="555.36" y2="642" stroke="#111" stroke-width="1"/>
<text x="555.36" y="650.41" font-size="8.4" text-anchor="middle" fill="#222">35</text>
<line x1="579.02" y1="639.9" x2="579.02" y2="642" stroke="#111" stroke-width="1"/>
<text x="579.02" y="650.41" font-size="8.4" text-anchor="middle" fill="#222">40</text>
<line x1="602.68" y1="639.9" x2="602.68" y2="642" stroke="#111" stroke-width="1"/>
<text x="602.68" y="650.41" font-size="8.4" text-anchor="middle" fill="#222">45</text>
<line x1="626.35" y1="639.9" x2="626.35" y2="642" stroke="#111" stroke-width="1"/>
<text x="626.35" y="650.41" font-size="8.4" text-anchor="middle" fill="#222">50</text>
<text x="514" y="663.03" font-size="8.45" text-anchor="middle" fill="#111" font-weight="bold">Time (Months)</text>
<text x="345.2" y="558.93" font-size="10.15" text-anchor="middle" fill="#111" font-weight="bold" transform="rotate(-90 345.2 555.3)">Progression-free Survival</text>
<text x="575" y="472.34" font-size="8.5" text-anchor="middle" fill="#111" font-weight="bold">mPFS (95%CI), months</text>
<line x1="509.9" y1="474.9" x2="641.2" y2="474.9" stroke="#8c8c8c" stroke-width="1.9"/>
<line x1="512" y1="485" x2="522.6" y2="485" stroke="#e5191c" stroke-width="1.3"/>
<line x1="517.3" y1="482.2" x2="517.3" y2="487.8" stroke="#e5191c" stroke-width="1"/>
<line x1="512" y1="502.1" x2="522.6" y2="502.1" stroke="#1b97b5" stroke-width="1.3"/>
<line x1="517.3" y1="499.3" x2="517.3" y2="504.9" stroke="#1b97b5" stroke-width="1"/>
<text x="528.5" y="488.04" font-size="8.5" text-anchor="start" fill="#111" font-weight="bold">High-risk</text>
<text x="566.8" y="488.04" font-size="8.5" text-anchor="start" fill="#222">5.37 (3.50-7.13)</text>
<text x="528.5" y="505.14" font-size="8.5" text-anchor="start" fill="#111" font-weight="bold">Low-risk</text>
<text x="568.3" y="505.14" font-size="8.5" text-anchor="start" fill="#222">12.50 (12.20-35.50)</text>
<text x="526.7" y="519.14" font-size="8.5" text-anchor="start" fill="#222">HR (95%CI): 3.71 (2.32-5.94)</text>
<text x="526.7" y="529.24" font-size="8.5" text-anchor="start" fill="#222">Log-rank P&lt;0.001</text>
<line x1="376.7" y1="670.6" x2="376.7" y2="700.3" stroke="#111" stroke-width="1.1"/>
<line x1="376.2" y1="700.3" x2="637.7" y2="700.3" stroke="#111" stroke-width="1.1"/>
<line x1="375" y1="678.6" x2="376.7" y2="678.6" stroke="#111" stroke-width="1"/>
<line x1="375" y1="692.6" x2="376.7" y2="692.6" stroke="#111" stroke-width="1"/>
<text x="372.2" y="681.64" font-size="8.5" text-anchor="end" fill="#e5191c" font-weight="bold">High-risk</text>
<text x="372.2" y="695.64" font-size="8.5" text-anchor="end" fill="#1b9cc0" font-weight="bold">Low-risk</text>
<text x="389.6" y="681.64" font-size="8.5" text-anchor="middle" fill="#222">40</text>
<text x="389.6" y="695.64" font-size="8.5" text-anchor="middle" fill="#222">78</text>
<line x1="389.6" y1="700.3" x2="389.6" y2="702.4" stroke="#111" stroke-width="1"/>
<text x="389.6" y="710.41" font-size="8.4" text-anchor="middle" fill="#222">0</text>
<text x="413.25" y="681.64" font-size="8.5" text-anchor="middle" fill="#222">19</text>
<text x="413.25" y="695.64" font-size="8.5" text-anchor="middle" fill="#222">66</text>
<line x1="413.25" y1="700.3" x2="413.25" y2="702.4" stroke="#111" stroke-width="1"/>
<text x="413.25" y="710.41" font-size="8.4" text-anchor="middle" fill="#222">5</text>
<text x="436.9" y="681.64" font-size="8.5" text-anchor="middle" fill="#222">4</text>
<text x="436.9" y="695.64" font-size="8.5" text-anchor="middle" fill="#222">37</text>
<line x1="436.9" y1="700.3" x2="436.9" y2="702.4" stroke="#111" stroke-width="1"/>
<text x="436.9" y="710.41" font-size="8.4" text-anchor="middle" fill="#222">10</text>
<text x="460.55" y="681.64" font-size="8.5" text-anchor="middle" fill="#222">3</text>
<text x="460.55" y="695.64" font-size="8.5" text-anchor="middle" fill="#222">25</text>
<line x1="460.55" y1="700.3" x2="460.55" y2="702.4" stroke="#111" stroke-width="1"/>
<text x="460.55" y="710.41" font-size="8.4" text-anchor="middle" fill="#222">15</text>
<text x="484.2" y="681.64" font-size="8.5" text-anchor="middle" fill="#222">0</text>
<text x="484.2" y="695.64" font-size="8.5" text-anchor="middle" fill="#222">19</text>
<line x1="484.2" y1="700.3" x2="484.2" y2="702.4" stroke="#111" stroke-width="1"/>
<text x="484.2" y="710.41" font-size="8.4" text-anchor="middle" fill="#222">20</text>
<text x="507.85" y="681.64" font-size="8.5" text-anchor="middle" fill="#222">0</text>
<text x="507.85" y="695.64" font-size="8.5" text-anchor="middle" fill="#222">13</text>
<line x1="507.85" y1="700.3" x2="507.85" y2="702.4" stroke="#111" stroke-width="1"/>
<text x="507.85" y="710.41" font-size="8.4" text-anchor="middle" fill="#222">25</text>
<text x="531.5" y="681.64" font-size="8.5" text-anchor="middle" fill="#222">0</text>
<text x="531.5" y="695.64" font-size="8.5" text-anchor="middle" fill="#222">7</text>
<line x1="531.5" y1="700.3" x2="531.5" y2="702.4" stroke="#111" stroke-width="1"/>
<text x="531.5" y="710.41" font-size="8.4" text-anchor="middle" fill="#222">30</text>
<text x="555.15" y="681.64" font-size="8.5" text-anchor="middle" fill="#222">0</text>
<text x="555.15" y="695.64" font-size="8.5" text-anchor="middle" fill="#222">5</text>
<line x1="555.15" y1="700.3" x2="555.15" y2="702.4" stroke="#111" stroke-width="1"/>
<text x="555.15" y="710.41" font-size="8.4" text-anchor="middle" fill="#222">35</text>
<text x="578.8" y="681.64" font-size="8.5" text-anchor="middle" fill="#222">0</text>
<text x="578.8" y="695.64" font-size="8.5" text-anchor="middle" fill="#222">3</text>
<line x1="578.8" y1="700.3" x2="578.8" y2="702.4" stroke="#111" stroke-width="1"/>
<text x="578.8" y="710.41" font-size="8.4" text-anchor="middle" fill="#222">40</text>
<text x="602.45" y="681.64" font-size="8.5" text-anchor="middle" fill="#222">0</text>
<text x="602.45" y="695.64" font-size="8.5" text-anchor="middle" fill="#222">2</text>
<line x1="602.45" y1="700.3" x2="602.45" y2="702.4" stroke="#111" stroke-width="1"/>
<text x="602.45" y="710.41" font-size="8.4" text-anchor="middle" fill="#222">45</text>
<text x="626.1" y="681.64" font-size="8.5" text-anchor="middle" fill="#222">0</text>
<text x="626.1" y="695.64" font-size="8.5" text-anchor="middle" fill="#222">1</text>
<line x1="626.1" y1="700.3" x2="626.1" y2="702.4" stroke="#111" stroke-width="1"/>
<text x="626.1" y="710.41" font-size="8.4" text-anchor="middle" fill="#222">50</text>
<text x="514" y="724.93" font-size="8.45" text-anchor="middle" fill="#111" font-weight="bold">Time (Months)</text>
</svg>
</body></html>
